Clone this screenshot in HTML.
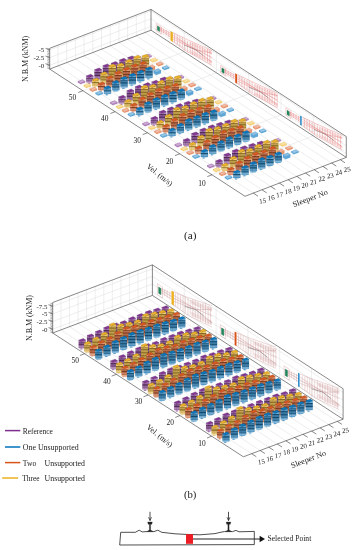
<!DOCTYPE html>
<html lang="en"><head><meta charset="utf-8"><title>Figure</title>
<style>html,body{margin:0;padding:0;background:#fff}svg{display:block}</style></head>
<body>
<svg width="359" height="550" viewBox="0 0 359 550" font-family="'Liberation Serif', serif" fill="#222">
<rect width="359" height="550" fill="#fff"/>
<g id="chartA">
<g fill="none" stroke="#dcdcdc" stroke-width=".5">
<path d="M253.3 193.1L58 65.9"/>
<path d="M58 65.9V45.1"/>
<path d="M262 189.8L66.7 62.6"/>
<path d="M66.7 62.6V41.8"/>
<path d="M270.7 186.4L75.4 59.2"/>
<path d="M75.4 59.2V38.4"/>
<path d="M279.4 183.1L84.1 55.9"/>
<path d="M84.1 55.9V35.1"/>
<path d="M288.1 179.7L92.8 52.5"/>
<path d="M92.8 52.5V31.7"/>
<path d="M296.8 176.4L101.5 49.2"/>
<path d="M101.5 49.2V28.4"/>
<path d="M305.5 173.1L110.2 45.9"/>
<path d="M110.2 45.9V25.1"/>
<path d="M314.2 169.7L118.9 42.5"/>
<path d="M118.9 42.5V21.7"/>
<path d="M322.9 166.4L127.6 39.2"/>
<path d="M127.6 39.2V18.4"/>
<path d="M331.6 163L136.3 35.8"/>
<path d="M136.3 35.8V15"/>
<path d="M340.3 159.7L145 32.5"/>
<path d="M145 32.5V11.7"/>
<path d="M212 174.8L313.3 135.9"/>
<path d="M313.3 135.9V115.1"/>
<path d="M179.7 153.8L281 114.9"/>
<path d="M281 114.9V94.1"/>
<path d="M147.4 132.8L248.7 93.9"/>
<path d="M248.7 93.9V73.1"/>
<path d="M115.1 111.7L216.4 72.8"/>
<path d="M216.4 72.8V52"/>
<path d="M82.9 90.7L184.2 51.8"/>
<path d="M184.2 51.8V31"/>
<path d="M49.7 65.3L151 26.4L346.3 153.6"/>
<path d="M49.7 57.6L151 18.7L346.3 145.9"/>
<path d="M49.7 49.9L151 11L346.3 138.2"/>
</g>
<g fill="none" stroke="#404040" stroke-width=".62" stroke-linejoin="round">
<path d="M49.7 69.1L151 30.2L346.3 157.4L245 196.3Z"/>
<path d="M49.7 48.3L151 9.4L346.3 136.6"/>
<path d="M49.7 69.1V48.3"/>
<path d="M151 30.2V9.4"/>
<path d="M346.3 157.4V136.6"/>
</g>
<g fill="none" stroke="#e27474" stroke-width=".45" stroke-opacity="0.85">
<path d="M158.2 29.2L170.8 37.2"/>
<path d="M158.2 27.8L170.8 35.3"/>
<path d="M158.2 26.5L170.8 33.4"/>
<path d="M172.5 41.2L186.9 51.5L212.1 65.2"/>
<path d="M172.5 32.4L186.9 39.4L212.1 50.7"/>
<path d="M172.5 38.8L195.5 49.7L212.1 53.1"/>
<path d="M172.5 34.7L195.5 49.7L212.1 62.2"/>
<path d="M172.5 36.8L212.1 57.6"/>
<path d="M161 31.7L161 27.4M163.6 33.4L163.6 28.7M166.2 35.1L166.2 30.1M168.8 36.8L168.8 31.4M174.5 42.5L174.5 33.7M177.3 44.3L177.3 35M179.8 46.5L179.8 36.3M182.4 47.5L182.4 37.2M184.8 50.1L184.8 39.3M187.5 51.9L187.5 40.8M190.2 52.6L190.2 41.6M192.6 54.7L192.6 42.5M194.9 55.7L194.9 43.2M197.2 56.5L197.2 44.5M199.9 57.9L199.9 46M202.4 59L202.4 46.9M204.8 59.8L204.8 48.8M207.5 61.7L207.5 49.1M209.9 63.6L209.9 49.8"/>
<path d="M190.9 52.7L190.9 50.1M192 53.4L192 50.7M193.2 54L193.2 51.3M194.3 54.6L194.3 51.9M195.5 55.2L195.5 52.4M196.6 55.8L196.6 53M197.8 56.4L197.8 53.6M198.9 57L198.9 54.2M200.1 57.6L200.1 54.8M201.2 58.2L201.2 55.4M202.4 58.8L202.4 56M203.5 59.4L203.5 56.6M204.7 60L204.7 57.1M205.8 60.7L205.8 57.7M207 61.3L207 58.3M208.1 61.9L208.1 58.9M209.3 62.5L209.3 59.5M210.4 63.1L210.4 60.1M211.6 63.7L211.6 60.7M190.9 44.8L190.9 42.1M192 45.3L192 42.7M193.2 45.9L193.2 43.2M194.3 46.4L194.3 43.7M195.5 47L195.5 44.2M196.6 47.5L196.6 44.8M197.8 48.1L197.8 45.3M198.9 48.6L198.9 45.8M200.1 49.2L200.1 46.4M201.2 49.7L201.2 46.9M202.4 50.3L202.4 47.4M203.5 50.8L203.5 47.9M204.7 51.4L204.7 48.5M205.8 51.9L205.8 49M207 52.5L207 49.5M208.1 53L208.1 50M209.3 53.5L209.3 50.6M210.4 54.1L210.4 51.1M211.6 54.6L211.6 51.6" stroke-opacity=".55"/>
</g>
<path d="M184 45L195.5 49.7L203.5 55.7" stroke="#555" stroke-opacity=".8" stroke-width=".5" fill="none"/>
<polygon points="156.2,30.9 161.4,34.2 161.4,26.7 156.2,23.4" fill="none" stroke="#e27474" stroke-width=".4" stroke-opacity=".8"/>
<polygon points="157.3,30.1 159.6,31.6 159.6,27.3 157.3,25.8" fill="#1f8a5b" stroke="#1a5f43" stroke-width=".3"/>
<polygon points="170.5,40.4 172.9,42 172.9,32.6 170.5,31.1" fill="#edb120"/>
<g fill="none" stroke="#e27474" stroke-width=".45" stroke-opacity="0.85">
<path d="M222.7 71.2L235.5 79.3"/>
<path d="M222.7 69.8L235.5 77.4"/>
<path d="M222.7 68.5L235.5 75.5"/>
<path d="M237.2 83.3L251.8 93.8L277.4 107.7"/>
<path d="M237.2 74.5L251.8 81.6L277.4 93.2"/>
<path d="M237.2 80.9L260.5 92L277.4 95.6"/>
<path d="M237.2 76.8L260.5 92L277.4 104.7"/>
<path d="M237.2 78.9L277.4 100.1"/>
<path d="M225.6 73.7L225.6 69.4M228.2 75.5L228.2 70.8M230.8 77.2L230.8 72.1M233.4 78.9L233.4 73.5M239.2 84.6L239.2 75.9M241.9 86.8L241.9 76.6M244.4 88.4L244.4 78.8M247 89.9L247 79.8M249.7 92.2L249.7 81M252.1 92.9L252.1 81.7M254.8 95.4L254.8 83.8M257.3 96.3L257.3 85.2M259.6 98L259.6 86.3M262.2 99.4L262.2 87.6M264.9 100.8L264.9 88.1M267.3 101.8L267.3 89.5M269.7 102.6L269.7 89.8M272.1 103.7L272.1 91.4M274.7 105.3L274.7 92.6M277.2 107.5L277.2 94.2"/>
<path d="M255.8 95L255.8 92.4M257 95.7L257 93M258.2 96.3L258.2 93.6M259.3 96.9L259.3 94.2M260.5 97.5L260.5 94.8M261.6 98.1L261.6 95.4M262.8 98.7L262.8 96M264 99.4L264 96.6M265.1 100L265.1 97.2M266.3 100.6L266.3 97.8M267.5 101.2L267.5 98.4M268.6 101.8L268.6 99M269.8 102.5L269.8 99.6M271 103.1L271 100.2M272.1 103.7L272.1 100.8M273.3 104.3L273.3 101.4M274.5 104.9L274.5 102M275.6 105.5L275.6 102.6M276.8 106.2L276.8 103.2M255.8 87.1L255.8 84.4M257 87.6L257 85M258.2 88.2L258.2 85.5M259.3 88.8L259.3 86M260.5 89.3L260.5 86.6M261.6 89.9L261.6 87.1M262.8 90.4L262.8 87.7M264 91L264 88.2M265.1 91.5L265.1 88.7M266.3 92.1L266.3 89.3M267.5 92.7L267.5 89.8M268.6 93.2L268.6 90.3M269.8 93.8L269.8 90.9M271 94.3L271 91.4M272.1 94.9L272.1 92M273.3 95.4L273.3 92.5M274.5 96L274.5 93M275.6 96.6L275.6 93.6M276.8 97.1L276.8 94.1" stroke-opacity=".55"/>
</g>
<path d="M248.8 87.2L260.5 92L268.6 98.1" stroke="#555" stroke-opacity=".8" stroke-width=".5" fill="none"/>
<polygon points="220.6,72.8 225.8,76.2 225.8,68.7 220.6,65.4" fill="none" stroke="#e27474" stroke-width=".4" stroke-opacity=".8"/>
<polygon points="221.8,72.1 224.1,73.6 224.1,69.3 221.8,67.8" fill="#1f8a5b" stroke="#1a5f43" stroke-width=".3"/>
<polygon points="235.2,82.5 237.1,83.8 237.1,74.4 235.2,73.2" fill="#d95319"/>
<g fill="none" stroke="#e27474" stroke-width=".45" stroke-opacity="0.85">
<path d="M287.9 113.7L300.6 121.8"/>
<path d="M287.9 112.3L300.6 119.9"/>
<path d="M287.9 111L300.6 118"/>
<path d="M302.4 125.8L316.9 136.2L342.4 150"/>
<path d="M302.4 117L316.9 124.1L342.4 135.5"/>
<path d="M302.4 123.3L325.6 134.4L342.4 137.9"/>
<path d="M302.4 119.2L325.6 134.4L342.4 147"/>
<path d="M302.4 121.4L342.4 142.5"/>
<path d="M290.8 116.2L290.8 111.9M293.4 117.9L293.4 113.2M296 119.6L296 114.6M298.6 121.4L298.6 116M304.4 127.3L304.4 118.4M307 128.5L307 119.2M309.5 130.9L309.5 120.5M312.1 132.8L312.1 122.2M314.6 134.3L314.6 123.3M317.3 135.7L317.3 124.1M319.7 137.6L319.7 126.4M322.4 138.2L322.4 127.5M325.1 139.4L325.1 128.7M327.5 140.9L327.5 129.4M330.2 142.7L330.2 130.6M332.7 144.2L332.7 131.6M335 144.9L335 133.3M337.8 146.6L337.8 134.3M340.5 148.8L340.5 135.7"/>
<path d="M320.9 137.4L320.9 134.8M322.1 138.1L322.1 135.4M323.3 138.7L323.3 136M324.4 139.3L324.4 136.6M325.6 139.9L325.6 137.2M326.7 140.5L326.7 137.8M327.9 141.1L327.9 138.4M329.1 141.8L329.1 139M330.2 142.4L330.2 139.6M331.4 143L331.4 140.2M332.5 143.6L332.5 140.7M333.7 144.2L333.7 141.3M334.9 144.8L334.9 141.9M336 145.4L336 142.5M337.2 146.1L337.2 143.1M338.3 146.7L338.3 143.7M339.5 147.3L339.5 144.3M340.7 147.9L340.7 144.9M341.8 148.5L341.8 145.5M320.9 129.5L320.9 126.8M322.1 130L322.1 127.4M323.3 130.6L323.3 127.9M324.4 131.2L324.4 128.4M325.6 131.7L325.6 129M326.7 132.3L326.7 129.5M327.9 132.8L327.9 130M329.1 133.4L329.1 130.6M330.2 133.9L330.2 131.1M331.4 134.5L331.4 131.6M332.5 135L332.5 132.2M333.7 135.6L333.7 132.7M334.9 136.1L334.9 133.3M336 136.7L336 133.8M337.2 137.3L337.2 134.3M338.3 137.8L338.3 134.9M339.5 138.4L339.5 135.4M340.7 138.9L340.7 135.9M341.8 139.5L341.8 136.5" stroke-opacity=".55"/>
</g>
<path d="M314 129.6L325.6 134.4L333.7 140.5" stroke="#555" stroke-opacity=".8" stroke-width=".5" fill="none"/>
<polygon points="285.8,115.3 291,118.7 291,111.2 285.8,107.8" fill="none" stroke="#e27474" stroke-width=".4" stroke-opacity=".8"/>
<polygon points="287,114.6 289.3,116.1 289.3,111.7 287,110.3" fill="#1f8a5b" stroke="#1a5f43" stroke-width=".3"/>
<polygon points="300.3,125 301.6,125.8 301.6,116.5 300.3,115.6" fill="#0072bd"/>
<defs>
<g id="apt1"><polygon points="-3.6,-2.9 -1,-1.2 3.6,-2.9 3.6,-3.9 -1,-2.2 -3.6,-3.9" fill="#b486bd" stroke="#914e9f" stroke-width=".3" stroke-opacity=".7"/><polygon points="-1,-2.2 3.6,-3.9 1,-5.7 -3.6,-3.9" fill="#cbacd2" stroke="#914e9f" stroke-width=".4"/></g>
<g id="apt2"><polygon points="-3.6,-1.2 -1,0.5 3.6,-1.2 3.6,-3.9 -1,-2.2 -3.6,-3.9" fill="#b486bd" stroke="#914e9f" stroke-width=".3" stroke-opacity=".7"/><path d="M-3.6 -2.6L-1 -0.8L3.6 -2.6" stroke="#914e9f" stroke-width=".4" stroke-opacity=".6" fill="none"/><polygon points="-1,-2.2 3.6,-3.9 1,-5.7 -3.6,-3.9" fill="#c5a1cc" stroke="#914e9f" stroke-width=".4"/></g>
<g id="ap275"><linearGradient id="gap275" gradientUnits="userSpaceOnUse" x1="0" y1="-8.5" x2="0" y2="0.9"><stop offset="0" stop-color="#af7eb9"/><stop offset="0.55" stop-color="#af7eb9"/><stop offset="0.7" stop-color="#c39fcb"/><stop offset="0.85" stop-color="#d8c1dd"/><stop offset="1" stop-color="#e5d5e8"/></linearGradient><linearGradient id="gap275s" gradientUnits="userSpaceOnUse" x1="0" y1="-8.5" x2="0" y2="0.9"><stop offset="0" stop-color="#391540"/><stop offset="0.55" stop-color="#391540"/><stop offset="0.7" stop-color="#62356b"/><stop offset="0.85" stop-color="#8a5395"/><stop offset="1" stop-color="#9e63aa"/></linearGradient><polygon points="-3.6,0 -1,1.7 3.6,0 3.6,-8.5 -1,-6.7 -3.6,-8.5" fill="url(#gap275)" stroke="#3f1847" stroke-opacity=".35" stroke-width=".3"/><path d="M-3.6 -5.6H3.6M-3.6 -4.1H3.6M-3.6 -2.6H3.6M-3.6 -1.1H3.6M-3 0.4H2.5" stroke="url(#gap275s)" stroke-width=".8" fill="none"/><path d="M-1 1.7V-6.7" stroke="#521f5c" stroke-opacity=".3" stroke-width=".35"/><polygon points="-1,-6.7 3.6,-8.5 1,-10.2 -3.6,-8.5" fill="#833793" stroke="#521f5c" stroke-opacity=".75" stroke-width=".45"/></g>
<g id="ap300"><linearGradient id="gap300" gradientUnits="userSpaceOnUse" x1="0" y1="-9.2" x2="0" y2="0.9"><stop offset="0" stop-color="#af7eb9"/><stop offset="0.58" stop-color="#af7eb9"/><stop offset="0.72" stop-color="#c39fcb"/><stop offset="0.86" stop-color="#d8c1dd"/><stop offset="1" stop-color="#e5d5e8"/></linearGradient><linearGradient id="gap300s" gradientUnits="userSpaceOnUse" x1="0" y1="-9.2" x2="0" y2="0.9"><stop offset="0" stop-color="#391540"/><stop offset="0.58" stop-color="#391540"/><stop offset="0.72" stop-color="#62356b"/><stop offset="0.86" stop-color="#8a5395"/><stop offset="1" stop-color="#9e63aa"/></linearGradient><polygon points="-3.6,0 -1,1.7 3.6,0 3.6,-9.3 -1,-7.5 -3.6,-9.2" fill="url(#gap300)" stroke="#3f1847" stroke-opacity=".35" stroke-width=".3"/><path d="M-3.6 -6.4H3.6M-3.6 -4.9H3.6M-3.6 -3.4H3.6M-3.6 -1.9H3.6M-3.6 -0.4H3.6M-1.9 1.1H0.6" stroke="url(#gap300s)" stroke-width=".8" fill="none"/><path d="M-1 1.7V-7.5" stroke="#521f5c" stroke-opacity=".3" stroke-width=".35"/><polygon points="-1,-7.5 3.6,-9.3 1,-11 -3.6,-9.2" fill="#833793" stroke="#521f5c" stroke-opacity=".75" stroke-width=".45"/></g>
<g id="ap325"><linearGradient id="gap325" gradientUnits="userSpaceOnUse" x1="0" y1="-10" x2="0" y2="0.9"><stop offset="0" stop-color="#af7eb9"/><stop offset="0.62" stop-color="#af7eb9"/><stop offset="0.75" stop-color="#c39fcb"/><stop offset="0.87" stop-color="#d8c1dd"/><stop offset="1" stop-color="#e5d5e8"/></linearGradient><linearGradient id="gap325s" gradientUnits="userSpaceOnUse" x1="0" y1="-10" x2="0" y2="0.9"><stop offset="0" stop-color="#391540"/><stop offset="0.62" stop-color="#391540"/><stop offset="0.75" stop-color="#62356b"/><stop offset="0.87" stop-color="#8a5395"/><stop offset="1" stop-color="#9e63aa"/></linearGradient><polygon points="-3.6,0 -1,1.7 3.6,0 3.6,-10 -1,-8.3 -3.6,-10" fill="url(#gap325)" stroke="#3f1847" stroke-opacity=".35" stroke-width=".3"/><path d="M-3.6 -7.1H3.6M-3.6 -5.6H3.6M-3.6 -4.1H3.6M-3.6 -2.6H3.6M-3.6 -1.1H3.6M-3.1 0.4H2.6" stroke="url(#gap325s)" stroke-width=".8" fill="none"/><path d="M-1 1.7V-8.3" stroke="#521f5c" stroke-opacity=".3" stroke-width=".35"/><polygon points="-1,-8.3 3.6,-10 1,-11.8 -3.6,-10" fill="#833793" stroke="#521f5c" stroke-opacity=".75" stroke-width=".45"/></g>
<g id="ap200"><linearGradient id="gap200" gradientUnits="userSpaceOnUse" x1="0" y1="-6.2" x2="0" y2="0.9"><stop offset="0" stop-color="#af7eb9"/><stop offset="0.38" stop-color="#af7eb9"/><stop offset="0.59" stop-color="#c39fcb"/><stop offset="0.79" stop-color="#d8c1dd"/><stop offset="1" stop-color="#e5d5e8"/></linearGradient><linearGradient id="gap200s" gradientUnits="userSpaceOnUse" x1="0" y1="-6.2" x2="0" y2="0.9"><stop offset="0" stop-color="#391540"/><stop offset="0.38" stop-color="#391540"/><stop offset="0.59" stop-color="#62356b"/><stop offset="0.79" stop-color="#8a5395"/><stop offset="1" stop-color="#9e63aa"/></linearGradient><polygon points="-3.6,0 -1,1.7 3.6,0 3.6,-6.2 -1,-4.4 -3.6,-6.1" fill="url(#gap200)" stroke="#3f1847" stroke-opacity=".35" stroke-width=".3"/><path d="M-3.6 -3.3H3.6M-3.6 -1.8H3.6M-3.6 -0.3H3.6M-1.8 1.2H0.4" stroke="url(#gap200s)" stroke-width=".8" fill="none"/><path d="M-1 1.7V-4.4" stroke="#521f5c" stroke-opacity=".3" stroke-width=".35"/><polygon points="-1,-4.4 3.6,-6.2 1,-7.9 -3.6,-6.1" fill="#833793" stroke="#521f5c" stroke-opacity=".75" stroke-width=".45"/></g>
<g id="ayt1"><polygon points="-3.6,-2.9 -1,-1.2 3.6,-2.9 3.6,-3.9 -1,-2.2 -3.6,-3.9" fill="#f5d27e" stroke="#f0bd41" stroke-width=".3" stroke-opacity=".7"/><polygon points="-1,-2.2 3.6,-3.9 1,-5.7 -3.6,-3.9" fill="#f8e0a6" stroke="#f0bd41" stroke-width=".4"/></g>
<g id="ay350"><linearGradient id="gay350" gradientUnits="userSpaceOnUse" x1="0" y1="-10.8" x2="0" y2="0.9"><stop offset="0" stop-color="#f4cf75"/><stop offset="0.64" stop-color="#f4cf75"/><stop offset="0.76" stop-color="#f7db98"/><stop offset="0.88" stop-color="#fae8bc"/><stop offset="1" stop-color="#fbefd2"/></linearGradient><linearGradient id="gay350s" gradientUnits="userSpaceOnUse" x1="0" y1="-10.8" x2="0" y2="0.9"><stop offset="0" stop-color="#6b500e"/><stop offset="0.64" stop-color="#6b500e"/><stop offset="0.76" stop-color="#a17f2c"/><stop offset="0.88" stop-color="#d6ad49"/><stop offset="1" stop-color="#f2c458"/></linearGradient><polygon points="-3.6,0 -1,1.7 3.6,0 3.6,-10.8 -1,-9 -3.6,-10.8" fill="url(#gay350)" stroke="#765810" stroke-opacity=".35" stroke-width=".3"/><path d="M-3.6 -7.9H3.6M-3.6 -6.4H3.6M-3.6 -4.9H3.6M-3.6 -3.4H3.6M-3.6 -1.9H3.6M-3.6 -0.4H3.6M-2 1.1H0.7" stroke="url(#gay350s)" stroke-width=".8" fill="none"/><path d="M-1 1.7V-9" stroke="#9a7315" stroke-opacity=".3" stroke-width=".35"/><polygon points="-1,-9 3.6,-10.8 1,-12.5 -3.6,-10.8" fill="#eeb429" stroke="#9a7315" stroke-opacity=".75" stroke-width=".45"/></g>
<g id="ay425"><linearGradient id="gay425" gradientUnits="userSpaceOnUse" x1="0" y1="-13.1" x2="0" y2="0.9"><stop offset="0" stop-color="#f4cf75"/><stop offset="0.71" stop-color="#f4cf75"/><stop offset="0.81" stop-color="#f7db98"/><stop offset="0.9" stop-color="#fae8bc"/><stop offset="1" stop-color="#fbefd2"/></linearGradient><linearGradient id="gay425s" gradientUnits="userSpaceOnUse" x1="0" y1="-13.1" x2="0" y2="0.9"><stop offset="0" stop-color="#6b500e"/><stop offset="0.71" stop-color="#6b500e"/><stop offset="0.81" stop-color="#a17f2c"/><stop offset="0.9" stop-color="#d6ad49"/><stop offset="1" stop-color="#f2c458"/></linearGradient><polygon points="-3.6,0 -1,1.7 3.6,0 3.6,-13.1 -1,-11.3 -3.6,-13.1" fill="url(#gay425)" stroke="#765810" stroke-opacity=".35" stroke-width=".3"/><path d="M-3.6 -10.2H3.6M-3.6 -8.7H3.6M-3.6 -7.2H3.6M-3.6 -5.7H3.6M-3.6 -4.2H3.6M-3.6 -2.7H3.6M-3.6 -1.2H3.6M-3.2 0.3H2.9" stroke="url(#gay425s)" stroke-width=".8" fill="none"/><path d="M-1 1.7V-11.3" stroke="#9a7315" stroke-opacity=".3" stroke-width=".35"/><polygon points="-1,-11.3 3.6,-13.1 1,-14.8 -3.6,-13.1" fill="#eeb429" stroke="#9a7315" stroke-opacity=".75" stroke-width=".45"/></g>
<g id="ay400"><linearGradient id="gay400" gradientUnits="userSpaceOnUse" x1="0" y1="-12.3" x2="0" y2="0.9"><stop offset="0" stop-color="#f4cf75"/><stop offset="0.69" stop-color="#f4cf75"/><stop offset="0.79" stop-color="#f7db98"/><stop offset="0.9" stop-color="#fae8bc"/><stop offset="1" stop-color="#fbefd2"/></linearGradient><linearGradient id="gay400s" gradientUnits="userSpaceOnUse" x1="0" y1="-12.3" x2="0" y2="0.9"><stop offset="0" stop-color="#6b500e"/><stop offset="0.69" stop-color="#6b500e"/><stop offset="0.79" stop-color="#a17f2c"/><stop offset="0.9" stop-color="#d6ad49"/><stop offset="1" stop-color="#f2c458"/></linearGradient><polygon points="-3.6,0 -1,1.7 3.6,0 3.6,-12.3 -1,-10.6 -3.6,-12.3" fill="url(#gay400)" stroke="#765810" stroke-opacity=".35" stroke-width=".3"/><path d="M-3.6 -9.5H3.6M-3.6 -8H3.6M-3.6 -6.5H3.6M-3.6 -5H3.6M-3.6 -3.5H3.6M-3.6 -2H3.6M-3.6 -0.5H3.6M-2 1H0.9" stroke="url(#gay400s)" stroke-width=".8" fill="none"/><path d="M-1 1.7V-10.6" stroke="#9a7315" stroke-opacity=".3" stroke-width=".35"/><polygon points="-1,-10.6 3.6,-12.3 1,-14.1 -3.6,-12.3" fill="#eeb429" stroke="#9a7315" stroke-opacity=".75" stroke-width=".45"/></g>
<g id="ay375"><linearGradient id="gay375" gradientUnits="userSpaceOnUse" x1="0" y1="-11.6" x2="0" y2="0.9"><stop offset="0" stop-color="#f4cf75"/><stop offset="0.67" stop-color="#f4cf75"/><stop offset="0.78" stop-color="#f7db98"/><stop offset="0.89" stop-color="#fae8bc"/><stop offset="1" stop-color="#fbefd2"/></linearGradient><linearGradient id="gay375s" gradientUnits="userSpaceOnUse" x1="0" y1="-11.6" x2="0" y2="0.9"><stop offset="0" stop-color="#6b500e"/><stop offset="0.67" stop-color="#6b500e"/><stop offset="0.78" stop-color="#a17f2c"/><stop offset="0.89" stop-color="#d6ad49"/><stop offset="1" stop-color="#f2c458"/></linearGradient><polygon points="-3.6,0 -1,1.7 3.6,0 3.6,-11.6 -1,-9.8 -3.6,-11.5" fill="url(#gay375)" stroke="#765810" stroke-opacity=".35" stroke-width=".3"/><path d="M-3.6 -8.7H3.6M-3.6 -7.2H3.6M-3.6 -5.7H3.6M-3.6 -4.2H3.6M-3.6 -2.7H3.6M-3.6 -1.2H3.6M-3.1 0.3H2.8" stroke="url(#gay375s)" stroke-width=".8" fill="none"/><path d="M-1 1.7V-9.8" stroke="#9a7315" stroke-opacity=".3" stroke-width=".35"/><polygon points="-1,-9.8 3.6,-11.6 1,-13.3 -3.6,-11.5" fill="#eeb429" stroke="#9a7315" stroke-opacity=".75" stroke-width=".45"/></g>
<g id="ay450"><linearGradient id="gay450" gradientUnits="userSpaceOnUse" x1="0" y1="-13.9" x2="0" y2="0.9"><stop offset="0" stop-color="#f4cf75"/><stop offset="0.72" stop-color="#f4cf75"/><stop offset="0.82" stop-color="#f7db98"/><stop offset="0.91" stop-color="#fae8bc"/><stop offset="1" stop-color="#fbefd2"/></linearGradient><linearGradient id="gay450s" gradientUnits="userSpaceOnUse" x1="0" y1="-13.9" x2="0" y2="0.9"><stop offset="0" stop-color="#6b500e"/><stop offset="0.72" stop-color="#6b500e"/><stop offset="0.82" stop-color="#a17f2c"/><stop offset="0.91" stop-color="#d6ad49"/><stop offset="1" stop-color="#f2c458"/></linearGradient><polygon points="-3.6,0 -1,1.7 3.6,0 3.6,-13.9 -1,-12.1 -3.6,-13.8" fill="url(#gay450)" stroke="#765810" stroke-opacity=".35" stroke-width=".3"/><path d="M-3.6 -11H3.6M-3.6 -9.5H3.6M-3.6 -8H3.6M-3.6 -6.5H3.6M-3.6 -5H3.6M-3.6 -3.5H3.6M-3.6 -2H3.6M-3.6 -0.5H3.6M-2.1 1H1" stroke="url(#gay450s)" stroke-width=".8" fill="none"/><path d="M-1 1.7V-12.1" stroke="#9a7315" stroke-opacity=".3" stroke-width=".35"/><polygon points="-1,-12.1 3.6,-13.9 1,-15.6 -3.6,-13.8" fill="#eeb429" stroke="#9a7315" stroke-opacity=".75" stroke-width=".45"/></g>
<g id="ay300"><linearGradient id="gay300" gradientUnits="userSpaceOnUse" x1="0" y1="-9.2" x2="0" y2="0.9"><stop offset="0" stop-color="#f4cf75"/><stop offset="0.58" stop-color="#f4cf75"/><stop offset="0.72" stop-color="#f7db98"/><stop offset="0.86" stop-color="#fae8bc"/><stop offset="1" stop-color="#fbefd2"/></linearGradient><linearGradient id="gay300s" gradientUnits="userSpaceOnUse" x1="0" y1="-9.2" x2="0" y2="0.9"><stop offset="0" stop-color="#6b500e"/><stop offset="0.58" stop-color="#6b500e"/><stop offset="0.72" stop-color="#a17f2c"/><stop offset="0.86" stop-color="#d6ad49"/><stop offset="1" stop-color="#f2c458"/></linearGradient><polygon points="-3.6,0 -1,1.7 3.6,0 3.6,-9.3 -1,-7.5 -3.6,-9.2" fill="url(#gay300)" stroke="#765810" stroke-opacity=".35" stroke-width=".3"/><path d="M-3.6 -6.4H3.6M-3.6 -4.9H3.6M-3.6 -3.4H3.6M-3.6 -1.9H3.6M-3.6 -0.4H3.6M-1.9 1.1H0.6" stroke="url(#gay300s)" stroke-width=".8" fill="none"/><path d="M-1 1.7V-7.5" stroke="#9a7315" stroke-opacity=".3" stroke-width=".35"/><polygon points="-1,-7.5 3.6,-9.3 1,-11 -3.6,-9.2" fill="#eeb429" stroke="#9a7315" stroke-opacity=".75" stroke-width=".45"/></g>
<g id="ay200"><linearGradient id="gay200" gradientUnits="userSpaceOnUse" x1="0" y1="-6.2" x2="0" y2="0.9"><stop offset="0" stop-color="#f4cf75"/><stop offset="0.38" stop-color="#f4cf75"/><stop offset="0.59" stop-color="#f7db98"/><stop offset="0.79" stop-color="#fae8bc"/><stop offset="1" stop-color="#fbefd2"/></linearGradient><linearGradient id="gay200s" gradientUnits="userSpaceOnUse" x1="0" y1="-6.2" x2="0" y2="0.9"><stop offset="0" stop-color="#6b500e"/><stop offset="0.38" stop-color="#6b500e"/><stop offset="0.59" stop-color="#a17f2c"/><stop offset="0.79" stop-color="#d6ad49"/><stop offset="1" stop-color="#f2c458"/></linearGradient><polygon points="-3.6,0 -1,1.7 3.6,0 3.6,-6.2 -1,-4.4 -3.6,-6.1" fill="url(#gay200)" stroke="#765810" stroke-opacity=".35" stroke-width=".3"/><path d="M-3.6 -3.3H3.6M-3.6 -1.8H3.6M-3.6 -0.3H3.6M-1.8 1.2H0.4" stroke="url(#gay200s)" stroke-width=".8" fill="none"/><path d="M-1 1.7V-4.4" stroke="#9a7315" stroke-opacity=".3" stroke-width=".35"/><polygon points="-1,-4.4 3.6,-6.2 1,-7.9 -3.6,-6.1" fill="#eeb429" stroke="#9a7315" stroke-opacity=".75" stroke-width=".45"/></g>
<g id="aot1"><polygon points="-3.6,-2.9 -1,-1.2 3.6,-2.9 3.6,-3.9 -1,-2.2 -3.6,-3.9" fill="#e99b7a" stroke="#df6d3c" stroke-width=".3" stroke-opacity=".7"/><polygon points="-1,-2.2 3.6,-3.9 1,-5.7 -3.6,-3.9" fill="#f0baa3" stroke="#df6d3c" stroke-width=".4"/></g>
<g id="aot2"><polygon points="-3.6,-1.2 -1,0.5 3.6,-1.2 3.6,-3.9 -1,-2.2 -3.6,-3.9" fill="#e99b7a" stroke="#df6d3c" stroke-width=".3" stroke-opacity=".7"/><path d="M-3.6 -2.6L-1 -0.8L3.6 -2.6" stroke="#df6d3c" stroke-width=".4" stroke-opacity=".6" fill="none"/><polygon points="-1,-2.2 3.6,-3.9 1,-5.7 -3.6,-3.9" fill="#eeb298" stroke="#df6d3c" stroke-width=".4"/></g>
<g id="ao350"><linearGradient id="gao350" gradientUnits="userSpaceOnUse" x1="0" y1="-10.8" x2="0" y2="0.9"><stop offset="0" stop-color="#e79470"/><stop offset="0.64" stop-color="#e79470"/><stop offset="0.76" stop-color="#edaf94"/><stop offset="0.88" stop-color="#f4cbba"/><stop offset="1" stop-color="#f7ddd1"/></linearGradient><linearGradient id="gao350s" gradientUnits="userSpaceOnUse" x1="0" y1="-10.8" x2="0" y2="0.9"><stop offset="0" stop-color="#62250b"/><stop offset="0.64" stop-color="#62250b"/><stop offset="0.76" stop-color="#964928"/><stop offset="0.88" stop-color="#c86c44"/><stop offset="1" stop-color="#e27e52"/></linearGradient><polygon points="-3.6,0 -1,1.7 3.6,0 3.6,-10.8 -1,-9 -3.6,-10.8" fill="url(#gao350)" stroke="#6c2a0c" stroke-opacity=".35" stroke-width=".3"/><path d="M-3.6 -7.9H3.6M-3.6 -6.4H3.6M-3.6 -4.9H3.6M-3.6 -3.4H3.6M-3.6 -1.9H3.6M-3.6 -0.4H3.6M-2 1.1H0.7" stroke="url(#gao350s)" stroke-width=".8" fill="none"/><path d="M-1 1.7V-9" stroke="#8d3610" stroke-opacity=".3" stroke-width=".35"/><polygon points="-1,-9 3.6,-10.8 1,-12.5 -3.6,-10.8" fill="#db5a22" stroke="#8d3610" stroke-opacity=".75" stroke-width=".45"/></g>
<g id="ao375"><linearGradient id="gao375" gradientUnits="userSpaceOnUse" x1="0" y1="-11.6" x2="0" y2="0.9"><stop offset="0" stop-color="#e79470"/><stop offset="0.67" stop-color="#e79470"/><stop offset="0.78" stop-color="#edaf94"/><stop offset="0.89" stop-color="#f4cbba"/><stop offset="1" stop-color="#f7ddd1"/></linearGradient><linearGradient id="gao375s" gradientUnits="userSpaceOnUse" x1="0" y1="-11.6" x2="0" y2="0.9"><stop offset="0" stop-color="#62250b"/><stop offset="0.67" stop-color="#62250b"/><stop offset="0.78" stop-color="#964928"/><stop offset="0.89" stop-color="#c86c44"/><stop offset="1" stop-color="#e27e52"/></linearGradient><polygon points="-3.6,0 -1,1.7 3.6,0 3.6,-11.6 -1,-9.8 -3.6,-11.5" fill="url(#gao375)" stroke="#6c2a0c" stroke-opacity=".35" stroke-width=".3"/><path d="M-3.6 -8.7H3.6M-3.6 -7.2H3.6M-3.6 -5.7H3.6M-3.6 -4.2H3.6M-3.6 -2.7H3.6M-3.6 -1.2H3.6M-3.1 0.3H2.8" stroke="url(#gao375s)" stroke-width=".8" fill="none"/><path d="M-1 1.7V-9.8" stroke="#8d3610" stroke-opacity=".3" stroke-width=".35"/><polygon points="-1,-9.8 3.6,-11.6 1,-13.3 -3.6,-11.5" fill="#db5a22" stroke="#8d3610" stroke-opacity=".75" stroke-width=".45"/></g>
<g id="ao300"><linearGradient id="gao300" gradientUnits="userSpaceOnUse" x1="0" y1="-9.2" x2="0" y2="0.9"><stop offset="0" stop-color="#e79470"/><stop offset="0.58" stop-color="#e79470"/><stop offset="0.72" stop-color="#edaf94"/><stop offset="0.86" stop-color="#f4cbba"/><stop offset="1" stop-color="#f7ddd1"/></linearGradient><linearGradient id="gao300s" gradientUnits="userSpaceOnUse" x1="0" y1="-9.2" x2="0" y2="0.9"><stop offset="0" stop-color="#62250b"/><stop offset="0.58" stop-color="#62250b"/><stop offset="0.72" stop-color="#964928"/><stop offset="0.86" stop-color="#c86c44"/><stop offset="1" stop-color="#e27e52"/></linearGradient><polygon points="-3.6,0 -1,1.7 3.6,0 3.6,-9.3 -1,-7.5 -3.6,-9.2" fill="url(#gao300)" stroke="#6c2a0c" stroke-opacity=".35" stroke-width=".3"/><path d="M-3.6 -6.4H3.6M-3.6 -4.9H3.6M-3.6 -3.4H3.6M-3.6 -1.9H3.6M-3.6 -0.4H3.6M-1.9 1.1H0.6" stroke="url(#gao300s)" stroke-width=".8" fill="none"/><path d="M-1 1.7V-7.5" stroke="#8d3610" stroke-opacity=".3" stroke-width=".35"/><polygon points="-1,-7.5 3.6,-9.3 1,-11 -3.6,-9.2" fill="#db5a22" stroke="#8d3610" stroke-opacity=".75" stroke-width=".45"/></g>
<g id="ao200"><linearGradient id="gao200" gradientUnits="userSpaceOnUse" x1="0" y1="-6.2" x2="0" y2="0.9"><stop offset="0" stop-color="#e79470"/><stop offset="0.38" stop-color="#e79470"/><stop offset="0.59" stop-color="#edaf94"/><stop offset="0.79" stop-color="#f4cbba"/><stop offset="1" stop-color="#f7ddd1"/></linearGradient><linearGradient id="gao200s" gradientUnits="userSpaceOnUse" x1="0" y1="-6.2" x2="0" y2="0.9"><stop offset="0" stop-color="#62250b"/><stop offset="0.38" stop-color="#62250b"/><stop offset="0.59" stop-color="#964928"/><stop offset="0.79" stop-color="#c86c44"/><stop offset="1" stop-color="#e27e52"/></linearGradient><polygon points="-3.6,0 -1,1.7 3.6,0 3.6,-6.2 -1,-4.4 -3.6,-6.1" fill="url(#gao200)" stroke="#6c2a0c" stroke-opacity=".35" stroke-width=".3"/><path d="M-3.6 -3.3H3.6M-3.6 -1.8H3.6M-3.6 -0.3H3.6M-1.8 1.2H0.4" stroke="url(#gao200s)" stroke-width=".8" fill="none"/><path d="M-1 1.7V-4.4" stroke="#8d3610" stroke-opacity=".3" stroke-width=".35"/><polygon points="-1,-4.4 3.6,-6.2 1,-7.9 -3.6,-6.1" fill="#db5a22" stroke="#8d3610" stroke-opacity=".75" stroke-width=".45"/></g>
<g id="abt1"><polygon points="-3.6,-2.9 -1,-1.2 3.6,-2.9 3.6,-3.9 -1,-2.2 -3.6,-3.9" fill="#6badd9" stroke="#2687c7" stroke-width=".3" stroke-opacity=".7"/><polygon points="-1,-2.2 3.6,-3.9 1,-5.7 -3.6,-3.9" fill="#99c7e5" stroke="#2687c7" stroke-width=".4"/></g>
<g id="abt2"><polygon points="-3.6,-1.2 -1,0.5 3.6,-1.2 3.6,-3.9 -1,-2.2 -3.6,-3.9" fill="#6badd9" stroke="#2687c7" stroke-width=".3" stroke-opacity=".7"/><path d="M-3.6 -2.6L-1 -0.8L3.6 -2.6" stroke="#2687c7" stroke-width=".4" stroke-opacity=".6" fill="none"/><polygon points="-1,-2.2 3.6,-3.9 1,-5.7 -3.6,-3.9" fill="#8cc0e1" stroke="#2687c7" stroke-width=".4"/></g>
<g id="ab300"><linearGradient id="gab300" gradientUnits="userSpaceOnUse" x1="0" y1="-9.2" x2="0" y2="0.9"><stop offset="0" stop-color="#61a8d6"/><stop offset="0.58" stop-color="#61a8d6"/><stop offset="0.72" stop-color="#89bee0"/><stop offset="0.86" stop-color="#b3d5eb"/><stop offset="1" stop-color="#cce3f2"/></linearGradient><linearGradient id="gab300s" gradientUnits="userSpaceOnUse" x1="0" y1="-9.2" x2="0" y2="0.9"><stop offset="0" stop-color="#003355"/><stop offset="0.58" stop-color="#003355"/><stop offset="0.72" stop-color="#1a5b86"/><stop offset="0.86" stop-color="#3381b5"/><stop offset="1" stop-color="#4095ce"/></linearGradient><polygon points="-3.6,0 -1,1.7 3.6,0 3.6,-9.3 -1,-7.5 -3.6,-9.2" fill="url(#gab300)" stroke="#00395e" stroke-opacity=".35" stroke-width=".3"/><path d="M-3.6 -6.4H3.6M-3.6 -4.9H3.6M-3.6 -3.4H3.6M-3.6 -1.9H3.6M-3.6 -0.4H3.6M-1.9 1.1H0.6" stroke="url(#gab300s)" stroke-width=".8" fill="none"/><path d="M-1 1.7V-7.5" stroke="#004a7b" stroke-opacity=".3" stroke-width=".35"/><polygon points="-1,-7.5 3.6,-9.3 1,-11 -3.6,-9.2" fill="#0a78c0" stroke="#004a7b" stroke-opacity=".75" stroke-width=".45"/></g>
<g id="ab275"><linearGradient id="gab275" gradientUnits="userSpaceOnUse" x1="0" y1="-8.5" x2="0" y2="0.9"><stop offset="0" stop-color="#61a8d6"/><stop offset="0.55" stop-color="#61a8d6"/><stop offset="0.7" stop-color="#89bee0"/><stop offset="0.85" stop-color="#b3d5eb"/><stop offset="1" stop-color="#cce3f2"/></linearGradient><linearGradient id="gab275s" gradientUnits="userSpaceOnUse" x1="0" y1="-8.5" x2="0" y2="0.9"><stop offset="0" stop-color="#003355"/><stop offset="0.55" stop-color="#003355"/><stop offset="0.7" stop-color="#1a5b86"/><stop offset="0.85" stop-color="#3381b5"/><stop offset="1" stop-color="#4095ce"/></linearGradient><polygon points="-3.6,0 -1,1.7 3.6,0 3.6,-8.5 -1,-6.7 -3.6,-8.5" fill="url(#gab275)" stroke="#00395e" stroke-opacity=".35" stroke-width=".3"/><path d="M-3.6 -5.6H3.6M-3.6 -4.1H3.6M-3.6 -2.6H3.6M-3.6 -1.1H3.6M-3 0.4H2.5" stroke="url(#gab275s)" stroke-width=".8" fill="none"/><path d="M-1 1.7V-6.7" stroke="#004a7b" stroke-opacity=".3" stroke-width=".35"/><polygon points="-1,-6.7 3.6,-8.5 1,-10.2 -3.6,-8.5" fill="#0a78c0" stroke="#004a7b" stroke-opacity=".75" stroke-width=".45"/></g>
<g id="ab200"><linearGradient id="gab200" gradientUnits="userSpaceOnUse" x1="0" y1="-6.2" x2="0" y2="0.9"><stop offset="0" stop-color="#61a8d6"/><stop offset="0.38" stop-color="#61a8d6"/><stop offset="0.59" stop-color="#89bee0"/><stop offset="0.79" stop-color="#b3d5eb"/><stop offset="1" stop-color="#cce3f2"/></linearGradient><linearGradient id="gab200s" gradientUnits="userSpaceOnUse" x1="0" y1="-6.2" x2="0" y2="0.9"><stop offset="0" stop-color="#003355"/><stop offset="0.38" stop-color="#003355"/><stop offset="0.59" stop-color="#1a5b86"/><stop offset="0.79" stop-color="#3381b5"/><stop offset="1" stop-color="#4095ce"/></linearGradient><polygon points="-3.6,0 -1,1.7 3.6,0 3.6,-6.2 -1,-4.4 -3.6,-6.1" fill="url(#gab200)" stroke="#00395e" stroke-opacity=".35" stroke-width=".3"/><path d="M-3.6 -3.3H3.6M-3.6 -1.8H3.6M-3.6 -0.3H3.6M-1.8 1.2H0.4" stroke="url(#gab200s)" stroke-width=".8" fill="none"/><path d="M-1 1.7V-4.4" stroke="#004a7b" stroke-opacity=".3" stroke-width=".35"/><polygon points="-1,-4.4 3.6,-6.2 1,-7.9 -3.6,-6.1" fill="#0a78c0" stroke="#004a7b" stroke-opacity=".75" stroke-width=".45"/></g>
<g id="ao325"><linearGradient id="gao325" gradientUnits="userSpaceOnUse" x1="0" y1="-10" x2="0" y2="0.9"><stop offset="0" stop-color="#e79470"/><stop offset="0.62" stop-color="#e79470"/><stop offset="0.75" stop-color="#edaf94"/><stop offset="0.87" stop-color="#f4cbba"/><stop offset="1" stop-color="#f7ddd1"/></linearGradient><linearGradient id="gao325s" gradientUnits="userSpaceOnUse" x1="0" y1="-10" x2="0" y2="0.9"><stop offset="0" stop-color="#62250b"/><stop offset="0.62" stop-color="#62250b"/><stop offset="0.75" stop-color="#964928"/><stop offset="0.87" stop-color="#c86c44"/><stop offset="1" stop-color="#e27e52"/></linearGradient><polygon points="-3.6,0 -1,1.7 3.6,0 3.6,-10 -1,-8.3 -3.6,-10" fill="url(#gao325)" stroke="#6c2a0c" stroke-opacity=".35" stroke-width=".3"/><path d="M-3.6 -7.1H3.6M-3.6 -5.6H3.6M-3.6 -4.1H3.6M-3.6 -2.6H3.6M-3.6 -1.1H3.6M-3.1 0.4H2.6" stroke="url(#gao325s)" stroke-width=".8" fill="none"/><path d="M-1 1.7V-8.3" stroke="#8d3610" stroke-opacity=".3" stroke-width=".35"/><polygon points="-1,-8.3 3.6,-10 1,-11.8 -3.6,-10" fill="#db5a22" stroke="#8d3610" stroke-opacity=".75" stroke-width=".45"/></g>
<g id="ap250"><linearGradient id="gap250" gradientUnits="userSpaceOnUse" x1="0" y1="-7.7" x2="0" y2="0.9"><stop offset="0" stop-color="#af7eb9"/><stop offset="0.5" stop-color="#af7eb9"/><stop offset="0.67" stop-color="#c39fcb"/><stop offset="0.83" stop-color="#d8c1dd"/><stop offset="1" stop-color="#e5d5e8"/></linearGradient><linearGradient id="gap250s" gradientUnits="userSpaceOnUse" x1="0" y1="-7.7" x2="0" y2="0.9"><stop offset="0" stop-color="#391540"/><stop offset="0.5" stop-color="#391540"/><stop offset="0.67" stop-color="#62356b"/><stop offset="0.83" stop-color="#8a5395"/><stop offset="1" stop-color="#9e63aa"/></linearGradient><polygon points="-3.6,0 -1,1.7 3.6,0 3.6,-7.7 -1,-6 -3.6,-7.7" fill="url(#gap250)" stroke="#3f1847" stroke-opacity=".35" stroke-width=".3"/><path d="M-3.6 -4.8H3.6M-3.6 -3.3H3.6M-3.6 -1.8H3.6M-3.6 -0.3H3.6M-1.8 1.2H0.5" stroke="url(#gap250s)" stroke-width=".8" fill="none"/><path d="M-1 1.7V-6" stroke="#521f5c" stroke-opacity=".3" stroke-width=".35"/><polygon points="-1,-6 3.6,-7.7 1,-9.4 -3.6,-7.7" fill="#833793" stroke="#521f5c" stroke-opacity=".75" stroke-width=".45"/></g>
<g id="ab250"><linearGradient id="gab250" gradientUnits="userSpaceOnUse" x1="0" y1="-7.7" x2="0" y2="0.9"><stop offset="0" stop-color="#61a8d6"/><stop offset="0.5" stop-color="#61a8d6"/><stop offset="0.67" stop-color="#89bee0"/><stop offset="0.83" stop-color="#b3d5eb"/><stop offset="1" stop-color="#cce3f2"/></linearGradient><linearGradient id="gab250s" gradientUnits="userSpaceOnUse" x1="0" y1="-7.7" x2="0" y2="0.9"><stop offset="0" stop-color="#003355"/><stop offset="0.5" stop-color="#003355"/><stop offset="0.67" stop-color="#1a5b86"/><stop offset="0.83" stop-color="#3381b5"/><stop offset="1" stop-color="#4095ce"/></linearGradient><polygon points="-3.6,0 -1,1.7 3.6,0 3.6,-7.7 -1,-6 -3.6,-7.7" fill="url(#gab250)" stroke="#00395e" stroke-opacity=".35" stroke-width=".3"/><path d="M-3.6 -4.8H3.6M-3.6 -3.3H3.6M-3.6 -1.8H3.6M-3.6 -0.3H3.6M-1.8 1.2H0.5" stroke="url(#gab250s)" stroke-width=".8" fill="none"/><path d="M-1 1.7V-6" stroke="#004a7b" stroke-opacity=".3" stroke-width=".35"/><polygon points="-1,-6 3.6,-7.7 1,-9.4 -3.6,-7.7" fill="#0a78c0" stroke="#004a7b" stroke-opacity=".75" stroke-width=".45"/></g>
<g id="ap175"><linearGradient id="gap175" gradientUnits="userSpaceOnUse" x1="0" y1="-5.4" x2="0" y2="0.9"><stop offset="0" stop-color="#af7eb9"/><stop offset="0.29" stop-color="#af7eb9"/><stop offset="0.53" stop-color="#c39fcb"/><stop offset="0.76" stop-color="#d8c1dd"/><stop offset="1" stop-color="#e5d5e8"/></linearGradient><linearGradient id="gap175s" gradientUnits="userSpaceOnUse" x1="0" y1="-5.4" x2="0" y2="0.9"><stop offset="0" stop-color="#391540"/><stop offset="0.29" stop-color="#391540"/><stop offset="0.53" stop-color="#62356b"/><stop offset="0.76" stop-color="#8a5395"/><stop offset="1" stop-color="#9e63aa"/></linearGradient><polygon points="-3.6,0 -1,1.7 3.6,0 3.6,-5.4 -1,-3.6 -3.6,-5.4" fill="url(#gap175)" stroke="#3f1847" stroke-opacity=".35" stroke-width=".3"/><path d="M-3.6 -2.5H3.6M-3.6 -1H3.6M-2.9 0.5H2.3" stroke="url(#gap175s)" stroke-width=".8" fill="none"/><path d="M-1 1.7V-3.6" stroke="#521f5c" stroke-opacity=".3" stroke-width=".35"/><polygon points="-1,-3.6 3.6,-5.4 1,-7.1 -3.6,-5.4" fill="#833793" stroke="#521f5c" stroke-opacity=".75" stroke-width=".45"/></g>
<g id="ay325"><linearGradient id="gay325" gradientUnits="userSpaceOnUse" x1="0" y1="-10" x2="0" y2="0.9"><stop offset="0" stop-color="#f4cf75"/><stop offset="0.62" stop-color="#f4cf75"/><stop offset="0.75" stop-color="#f7db98"/><stop offset="0.87" stop-color="#fae8bc"/><stop offset="1" stop-color="#fbefd2"/></linearGradient><linearGradient id="gay325s" gradientUnits="userSpaceOnUse" x1="0" y1="-10" x2="0" y2="0.9"><stop offset="0" stop-color="#6b500e"/><stop offset="0.62" stop-color="#6b500e"/><stop offset="0.75" stop-color="#a17f2c"/><stop offset="0.87" stop-color="#d6ad49"/><stop offset="1" stop-color="#f2c458"/></linearGradient><polygon points="-3.6,0 -1,1.7 3.6,0 3.6,-10 -1,-8.3 -3.6,-10" fill="url(#gay325)" stroke="#765810" stroke-opacity=".35" stroke-width=".3"/><path d="M-3.6 -7.1H3.6M-3.6 -5.6H3.6M-3.6 -4.1H3.6M-3.6 -2.6H3.6M-3.6 -1.1H3.6M-3.1 0.4H2.6" stroke="url(#gay325s)" stroke-width=".8" fill="none"/><path d="M-1 1.7V-8.3" stroke="#9a7315" stroke-opacity=".3" stroke-width=".35"/><polygon points="-1,-8.3 3.6,-10 1,-11.8 -3.6,-10" fill="#eeb429" stroke="#9a7315" stroke-opacity=".75" stroke-width=".45"/></g>
<g id="ay175"><linearGradient id="gay175" gradientUnits="userSpaceOnUse" x1="0" y1="-5.4" x2="0" y2="0.9"><stop offset="0" stop-color="#f4cf75"/><stop offset="0.29" stop-color="#f4cf75"/><stop offset="0.53" stop-color="#f7db98"/><stop offset="0.76" stop-color="#fae8bc"/><stop offset="1" stop-color="#fbefd2"/></linearGradient><linearGradient id="gay175s" gradientUnits="userSpaceOnUse" x1="0" y1="-5.4" x2="0" y2="0.9"><stop offset="0" stop-color="#6b500e"/><stop offset="0.29" stop-color="#6b500e"/><stop offset="0.53" stop-color="#a17f2c"/><stop offset="0.76" stop-color="#d6ad49"/><stop offset="1" stop-color="#f2c458"/></linearGradient><polygon points="-3.6,0 -1,1.7 3.6,0 3.6,-5.4 -1,-3.6 -3.6,-5.4" fill="url(#gay175)" stroke="#765810" stroke-opacity=".35" stroke-width=".3"/><path d="M-3.6 -2.5H3.6M-3.6 -1H3.6M-2.9 0.5H2.3" stroke="url(#gay175s)" stroke-width=".8" fill="none"/><path d="M-1 1.7V-3.6" stroke="#9a7315" stroke-opacity=".3" stroke-width=".35"/><polygon points="-1,-3.6 3.6,-5.4 1,-7.1 -3.6,-5.4" fill="#eeb429" stroke="#9a7315" stroke-opacity=".75" stroke-width=".45"/></g>
<g id="ao275"><linearGradient id="gao275" gradientUnits="userSpaceOnUse" x1="0" y1="-8.5" x2="0" y2="0.9"><stop offset="0" stop-color="#e79470"/><stop offset="0.55" stop-color="#e79470"/><stop offset="0.7" stop-color="#edaf94"/><stop offset="0.85" stop-color="#f4cbba"/><stop offset="1" stop-color="#f7ddd1"/></linearGradient><linearGradient id="gao275s" gradientUnits="userSpaceOnUse" x1="0" y1="-8.5" x2="0" y2="0.9"><stop offset="0" stop-color="#62250b"/><stop offset="0.55" stop-color="#62250b"/><stop offset="0.7" stop-color="#964928"/><stop offset="0.85" stop-color="#c86c44"/><stop offset="1" stop-color="#e27e52"/></linearGradient><polygon points="-3.6,0 -1,1.7 3.6,0 3.6,-8.5 -1,-6.7 -3.6,-8.5" fill="url(#gao275)" stroke="#6c2a0c" stroke-opacity=".35" stroke-width=".3"/><path d="M-3.6 -5.6H3.6M-3.6 -4.1H3.6M-3.6 -2.6H3.6M-3.6 -1.1H3.6M-3 0.4H2.5" stroke="url(#gao275s)" stroke-width=".8" fill="none"/><path d="M-1 1.7V-6.7" stroke="#8d3610" stroke-opacity=".3" stroke-width=".35"/><polygon points="-1,-6.7 3.6,-8.5 1,-10.2 -3.6,-8.5" fill="#db5a22" stroke="#8d3610" stroke-opacity=".75" stroke-width=".45"/></g>
<g id="ao175"><linearGradient id="gao175" gradientUnits="userSpaceOnUse" x1="0" y1="-5.4" x2="0" y2="0.9"><stop offset="0" stop-color="#e79470"/><stop offset="0.29" stop-color="#e79470"/><stop offset="0.53" stop-color="#edaf94"/><stop offset="0.76" stop-color="#f4cbba"/><stop offset="1" stop-color="#f7ddd1"/></linearGradient><linearGradient id="gao175s" gradientUnits="userSpaceOnUse" x1="0" y1="-5.4" x2="0" y2="0.9"><stop offset="0" stop-color="#62250b"/><stop offset="0.29" stop-color="#62250b"/><stop offset="0.53" stop-color="#964928"/><stop offset="0.76" stop-color="#c86c44"/><stop offset="1" stop-color="#e27e52"/></linearGradient><polygon points="-3.6,0 -1,1.7 3.6,0 3.6,-5.4 -1,-3.6 -3.6,-5.4" fill="url(#gao175)" stroke="#6c2a0c" stroke-opacity=".35" stroke-width=".3"/><path d="M-3.6 -2.5H3.6M-3.6 -1H3.6M-2.9 0.5H2.3" stroke="url(#gao175s)" stroke-width=".8" fill="none"/><path d="M-1 1.7V-3.6" stroke="#8d3610" stroke-opacity=".3" stroke-width=".35"/><polygon points="-1,-3.6 3.6,-5.4 1,-7.1 -3.6,-5.4" fill="#db5a22" stroke="#8d3610" stroke-opacity=".75" stroke-width=".45"/></g>
</defs>
<use href="#apt1" x="147.9" y="59.8"/>
<use href="#apt2" x="139.6" y="63"/>
<use href="#ap275" x="131.3" y="66.1"/>
<use href="#ap300" x="123" y="69.3"/>
<use href="#ap300" x="114.7" y="72.5"/>
<use href="#ap325" x="106.4" y="75.7"/>
<use href="#ap300" x="98.1" y="78.9"/>
<use href="#ap200" x="89.8" y="82.1"/>
<use href="#apt1" x="81.5" y="85.3"/>
<use href="#ayt1" x="153.8" y="63.6"/>
<use href="#ay350" x="145.5" y="66.8"/>
<use href="#ay425" x="137.2" y="70"/>
<use href="#ay400" x="128.9" y="73.2"/>
<use href="#ay375" x="120.6" y="76.4"/>
<use href="#ay450" x="112.3" y="79.6"/>
<use href="#ay300" x="104" y="82.7"/>
<use href="#ay200" x="95.7" y="85.9"/>
<use href="#ayt1" x="87.4" y="89.1"/>
<use href="#aot1" x="159.7" y="67.5"/>
<use href="#aot2" x="151.4" y="70.6"/>
<use href="#ao350" x="143.1" y="73.8"/>
<use href="#ao375" x="134.8" y="77"/>
<use href="#ao375" x="126.5" y="80.2"/>
<use href="#ao350" x="118.2" y="83.4"/>
<use href="#ao300" x="109.9" y="86.6"/>
<use href="#ao200" x="101.6" y="89.8"/>
<use href="#aot1" x="93.3" y="93"/>
<use href="#abt1" x="165.6" y="71.3"/>
<use href="#abt2" x="157.3" y="74.5"/>
<use href="#ab300" x="149" y="77.7"/>
<use href="#ab300" x="140.7" y="80.9"/>
<use href="#ab300" x="132.4" y="84.1"/>
<use href="#ab300" x="124.1" y="87.2"/>
<use href="#ab275" x="115.8" y="90.4"/>
<use href="#ab200" x="107.5" y="93.6"/>
<use href="#abt1" x="99.2" y="96.8"/>
<use href="#apt1" x="180.3" y="80.8"/>
<use href="#apt2" x="171.9" y="84"/>
<use href="#ap275" x="163.6" y="87.2"/>
<use href="#ap275" x="155.3" y="90.4"/>
<use href="#ap300" x="147" y="93.6"/>
<use href="#ap325" x="138.7" y="96.8"/>
<use href="#ap300" x="130.4" y="100"/>
<use href="#ap200" x="122.1" y="103.1"/>
<use href="#apt1" x="113.8" y="106.3"/>
<use href="#ayt1" x="186.1" y="84.7"/>
<use href="#ay350" x="177.8" y="87.9"/>
<use href="#ay425" x="169.5" y="91"/>
<use href="#ay400" x="161.2" y="94.2"/>
<use href="#ay375" x="152.9" y="97.4"/>
<use href="#ay450" x="144.6" y="100.6"/>
<use href="#ay300" x="136.3" y="103.8"/>
<use href="#ay200" x="128" y="107"/>
<use href="#ayt1" x="119.7" y="110.2"/>
<use href="#aot1" x="192" y="88.5"/>
<use href="#aot2" x="183.7" y="91.7"/>
<use href="#ao325" x="175.4" y="94.9"/>
<use href="#ao350" x="167.1" y="98.1"/>
<use href="#ao375" x="158.8" y="101.3"/>
<use href="#ao350" x="150.5" y="104.5"/>
<use href="#ao300" x="142.2" y="107.6"/>
<use href="#ao200" x="133.9" y="110.8"/>
<use href="#aot1" x="125.6" y="114"/>
<use href="#abt1" x="197.9" y="92.3"/>
<use href="#abt2" x="189.6" y="95.5"/>
<use href="#ab275" x="181.3" y="98.7"/>
<use href="#ab300" x="173" y="101.9"/>
<use href="#ab300" x="164.7" y="105.1"/>
<use href="#ab300" x="156.4" y="108.3"/>
<use href="#ab275" x="148.1" y="111.5"/>
<use href="#ab200" x="139.8" y="114.7"/>
<use href="#abt1" x="131.5" y="117.9"/>
<use href="#apt1" x="212.6" y="101.9"/>
<use href="#apt2" x="204.3" y="105.1"/>
<use href="#ap250" x="196" y="108.3"/>
<use href="#ap275" x="187.7" y="111.4"/>
<use href="#ap300" x="179.3" y="114.6"/>
<use href="#ap300" x="171" y="117.8"/>
<use href="#ap300" x="162.7" y="121"/>
<use href="#ap200" x="154.4" y="124.2"/>
<use href="#apt1" x="146.1" y="127.4"/>
<use href="#ayt1" x="218.5" y="105.7"/>
<use href="#ay350" x="210.2" y="108.9"/>
<use href="#ay400" x="201.9" y="112.1"/>
<use href="#ay400" x="193.6" y="115.3"/>
<use href="#ay375" x="185.2" y="118.5"/>
<use href="#ay425" x="176.9" y="121.7"/>
<use href="#ay300" x="168.6" y="124.9"/>
<use href="#ay200" x="160.3" y="128"/>
<use href="#ayt1" x="152" y="131.2"/>
<use href="#aot1" x="224.4" y="109.6"/>
<use href="#aot2" x="216.1" y="112.7"/>
<use href="#ao325" x="207.8" y="115.9"/>
<use href="#ao350" x="199.4" y="119.1"/>
<use href="#ao375" x="191.1" y="122.3"/>
<use href="#ao350" x="182.8" y="125.5"/>
<use href="#ao300" x="174.5" y="128.7"/>
<use href="#ao200" x="166.2" y="131.9"/>
<use href="#aot1" x="157.9" y="135.1"/>
<use href="#abt1" x="230.3" y="113.4"/>
<use href="#abt2" x="222" y="116.6"/>
<use href="#ab275" x="213.7" y="119.8"/>
<use href="#ab300" x="205.3" y="123"/>
<use href="#ab300" x="197" y="126.2"/>
<use href="#ab300" x="188.7" y="129.3"/>
<use href="#ab250" x="180.4" y="132.5"/>
<use href="#ab200" x="172.1" y="135.7"/>
<use href="#abt1" x="163.8" y="138.9"/>
<use href="#apt1" x="244.9" y="122.9"/>
<use href="#apt2" x="236.6" y="126.1"/>
<use href="#ap250" x="228.3" y="129.3"/>
<use href="#ap275" x="220" y="132.5"/>
<use href="#ap300" x="211.7" y="135.7"/>
<use href="#ap300" x="203.4" y="138.9"/>
<use href="#ap275" x="195.1" y="142.1"/>
<use href="#ap175" x="186.7" y="145.3"/>
<use href="#apt1" x="178.4" y="148.4"/>
<use href="#ayt1" x="250.8" y="126.8"/>
<use href="#ay325" x="242.5" y="130"/>
<use href="#ay400" x="234.2" y="133.1"/>
<use href="#ay375" x="225.9" y="136.3"/>
<use href="#ay375" x="217.6" y="139.5"/>
<use href="#ay425" x="209.3" y="142.7"/>
<use href="#ay300" x="201" y="145.9"/>
<use href="#ay175" x="192.6" y="149.1"/>
<use href="#ayt1" x="184.3" y="152.3"/>
<use href="#aot1" x="256.7" y="130.6"/>
<use href="#aot2" x="248.4" y="133.8"/>
<use href="#ao325" x="240.1" y="137"/>
<use href="#ao350" x="231.8" y="140.2"/>
<use href="#ao375" x="223.5" y="143.4"/>
<use href="#ao325" x="215.2" y="146.6"/>
<use href="#ao275" x="206.9" y="149.7"/>
<use href="#ao175" x="198.5" y="152.9"/>
<use href="#aot1" x="190.2" y="156.1"/>
<use href="#abt1" x="262.6" y="134.4"/>
<use href="#abt2" x="254.3" y="137.6"/>
<use href="#ab275" x="246" y="140.8"/>
<use href="#ab275" x="237.7" y="144"/>
<use href="#ab300" x="229.4" y="147.2"/>
<use href="#ab275" x="221.1" y="150.4"/>
<use href="#ab250" x="212.7" y="153.6"/>
<use href="#ab200" x="204.4" y="156.8"/>
<use href="#abt1" x="196.1" y="160"/>
<use href="#apt1" x="277.2" y="144"/>
<use href="#apt2" x="268.9" y="147.2"/>
<use href="#ap250" x="260.6" y="150.4"/>
<use href="#ap275" x="252.3" y="153.5"/>
<use href="#ap300" x="244" y="156.7"/>
<use href="#ap300" x="235.7" y="159.9"/>
<use href="#ap275" x="227.4" y="163.1"/>
<use href="#ap175" x="219.1" y="166.3"/>
<use href="#apt1" x="210.8" y="169.5"/>
<use href="#ayt1" x="283.1" y="147.8"/>
<use href="#ay325" x="274.8" y="151"/>
<use href="#ay400" x="266.5" y="154.2"/>
<use href="#ay375" x="258.2" y="157.4"/>
<use href="#ay350" x="249.9" y="160.6"/>
<use href="#ay425" x="241.6" y="163.8"/>
<use href="#ay300" x="233.3" y="167"/>
<use href="#ay175" x="225" y="170.1"/>
<use href="#ayt1" x="216.7" y="173.3"/>
<use href="#aot1" x="289" y="151.7"/>
<use href="#aot2" x="280.7" y="154.8"/>
<use href="#ao325" x="272.4" y="158"/>
<use href="#ao325" x="264.1" y="161.2"/>
<use href="#ao350" x="255.8" y="164.4"/>
<use href="#ao325" x="247.5" y="167.6"/>
<use href="#ao275" x="239.2" y="170.8"/>
<use href="#ao175" x="230.9" y="174"/>
<use href="#aot1" x="222.6" y="177.2"/>
<use href="#abt1" x="294.9" y="155.5"/>
<use href="#abt2" x="286.6" y="158.7"/>
<use href="#ab275" x="278.3" y="161.9"/>
<use href="#ab275" x="270" y="165.1"/>
<use href="#ab300" x="261.7" y="168.3"/>
<use href="#ab275" x="253.4" y="171.4"/>
<use href="#ab250" x="245.1" y="174.6"/>
<use href="#ab200" x="236.8" y="177.8"/>
<use href="#abt1" x="228.5" y="181"/>
<g fill="none" stroke="#3a3a3a" stroke-width=".6">
<path d="M253.3 193.1l4.7 3.1"/>
<path d="M262 189.8l4.7 3.1"/>
<path d="M270.7 186.4l4.7 3.1"/>
<path d="M279.4 183.1l4.7 3.1"/>
<path d="M288.1 179.7l4.7 3.1"/>
<path d="M296.8 176.4l4.7 3.1"/>
<path d="M305.5 173.1l4.7 3.1"/>
<path d="M314.2 169.7l4.7 3.1"/>
<path d="M322.9 166.4l4.7 3.1"/>
<path d="M331.6 163l4.7 3.1"/>
<path d="M340.3 159.7l4.7 3.1"/>
<path d="M212 174.8l-4.7 1.8"/>
<path d="M179.7 153.8l-4.7 1.8"/>
<path d="M147.4 132.8l-4.7 1.8"/>
<path d="M115.1 111.7l-4.7 1.8"/>
<path d="M82.9 90.7l-4.7 1.8"/>
<path d="M49.7 69.1l-2.4 -0.9" stroke-width=".4"/>
<path d="M49.7 67.6l-2.4 -0.9" stroke-width=".4"/>
<path d="M49.7 66l-2.4 -0.9" stroke-width=".4"/>
<path d="M49.7 64.5l-2.4 -0.9" stroke-width=".4"/>
<path d="M49.7 63l-2.4 -0.9" stroke-width=".4"/>
<path d="M49.7 61.4l-2.4 -0.9" stroke-width=".4"/>
<path d="M49.7 59.9l-2.4 -0.9" stroke-width=".4"/>
<path d="M49.7 58.4l-2.4 -0.9" stroke-width=".4"/>
<path d="M49.7 56.9l-2.4 -0.9" stroke-width=".4"/>
<path d="M49.7 55.3l-2.4 -0.9" stroke-width=".4"/>
<path d="M49.7 53.8l-2.4 -0.9" stroke-width=".4"/>
<path d="M49.7 52.3l-2.4 -0.9" stroke-width=".4"/>
<path d="M49.7 50.7l-2.4 -0.9" stroke-width=".4"/>
<path d="M49.7 49.2l-2.4 -0.9" stroke-width=".4"/>
<path d="M49.7 65.3l-4.2 -1.6"/>
<path d="M49.7 57.6l-4.2 -1.6"/>
<path d="M49.7 49.9l-4.2 -1.6"/>
</g>
<text x="263" y="203.2" font-size="7" text-anchor="middle" transform="rotate(-8 263 203.2)">15</text>
<text x="271.4" y="200" font-size="7" text-anchor="middle" transform="rotate(-8 271.4 200)">16</text>
<text x="279.9" y="196.9" font-size="7" text-anchor="middle" transform="rotate(-8 279.9 196.9)">17</text>
<text x="288.4" y="193.8" font-size="7" text-anchor="middle" transform="rotate(-8 288.4 193.8)">18</text>
<text x="296.8" y="190.6" font-size="7" text-anchor="middle" transform="rotate(-8 296.8 190.6)">19</text>
<text x="305.2" y="187.4" font-size="7" text-anchor="middle" transform="rotate(-8 305.2 187.4)">20</text>
<text x="313.7" y="184.3" font-size="7" text-anchor="middle" transform="rotate(-8 313.7 184.3)">21</text>
<text x="322.1" y="181.1" font-size="7" text-anchor="middle" transform="rotate(-8 322.1 181.1)">22</text>
<text x="330.6" y="178" font-size="7" text-anchor="middle" transform="rotate(-8 330.6 178)">23</text>
<text x="339.1" y="174.8" font-size="7" text-anchor="middle" transform="rotate(-8 339.1 174.8)">24</text>
<text x="347.5" y="171.7" font-size="7" text-anchor="middle" transform="rotate(-8 347.5 171.7)">25</text>
<text x="202" y="185.6" font-size="7.4" text-anchor="middle">10</text>
<text x="169.6" y="164.2" font-size="7.4" text-anchor="middle">20</text>
<text x="137.2" y="142.8" font-size="7.4" text-anchor="middle">30</text>
<text x="104.8" y="121.4" font-size="7.4" text-anchor="middle">40</text>
<text x="72.4" y="100" font-size="7.4" text-anchor="middle">50</text>
<text x="44.3" y="52.4" font-size="6.9" text-anchor="end">-5</text>
<text x="44.3" y="60" font-size="6.9" text-anchor="end">-2.5</text>
<text x="44.3" y="67.5" font-size="6.9" text-anchor="end">-0</text>
<text x="28" y="58.9" font-size="8" text-anchor="middle" transform="rotate(-90 28 58.9)" textLength="46" lengthAdjust="spacingAndGlyphs">N.B.M (kNM)</text>
<text x="311.1" y="200.7" font-size="8" text-anchor="middle" transform="rotate(-21 311.1 200.7)" textLength="37" lengthAdjust="spacingAndGlyphs">Sleeper No</text>
<text x="158.1" y="176.9" font-size="8" text-anchor="middle" transform="rotate(39 158.1 176.9)" textLength="31" lengthAdjust="spacingAndGlyphs">Vel. (m/s)</text>
</g>
<g id="chartB">
<g fill="none" stroke="#dcdcdc" stroke-width=".5">
<path d="M251.6 453.7L60.9 329.9"/>
<path d="M60.9 329.9V299.4"/>
<path d="M260.2 450.5L69.5 326.7"/>
<path d="M69.5 326.7V296.2"/>
<path d="M268.8 447.2L78.1 323.4"/>
<path d="M78.1 323.4V292.9"/>
<path d="M277.3 444L86.6 320.2"/>
<path d="M86.6 320.2V289.7"/>
<path d="M285.9 440.8L95.2 317"/>
<path d="M95.2 317V286.5"/>
<path d="M294.5 437.5L103.8 313.7"/>
<path d="M103.8 313.7V283.2"/>
<path d="M303 434.3L112.3 310.5"/>
<path d="M112.3 310.5V280"/>
<path d="M311.6 431.1L120.9 307.3"/>
<path d="M120.9 307.3V276.8"/>
<path d="M320.1 427.9L129.4 304.1"/>
<path d="M129.4 304.1V273.6"/>
<path d="M328.7 424.6L138 300.8"/>
<path d="M138 300.8V270.3"/>
<path d="M337.3 421.4L146.6 297.6"/>
<path d="M146.6 297.6V267.1"/>
<path d="M211.7 436.2L311.4 398.6"/>
<path d="M311.4 398.6V368.1"/>
<path d="M180 415.6L279.7 378"/>
<path d="M279.7 378V347.5"/>
<path d="M148.2 395L247.9 357.4"/>
<path d="M247.9 357.4V326.9"/>
<path d="M116.4 374.3L216.1 336.7"/>
<path d="M216.1 336.7V306.2"/>
<path d="M84.6 353.7L184.3 316.1"/>
<path d="M184.3 316.1V285.6"/>
<path d="M52.7 329.2L152.4 291.6L343.1 415.4"/>
<path d="M52.7 321.6L152.4 284L343.1 407.8"/>
<path d="M52.7 313.9L152.4 276.3L343.1 400.1"/>
<path d="M52.7 306.3L152.4 268.7L343.1 392.5"/>
</g>
<g fill="none" stroke="#404040" stroke-width=".62" stroke-linejoin="round">
<path d="M52.7 333L152.4 295.4L343.1 419.2L243.4 456.8Z"/>
<path d="M52.7 302.5L152.4 264.9L343.1 388.7"/>
<path d="M52.7 333V302.5"/>
<path d="M152.4 295.4V264.9"/>
<path d="M343.1 419.2V388.7"/>
</g>
<g fill="none" stroke="#c58787" stroke-width=".45" stroke-opacity="0.75">
<path d="M159.4 291.6L171.7 299.3"/>
<path d="M159.4 289.6L171.7 296.5"/>
<path d="M159.4 287.7L171.7 293.8"/>
<path d="M173.4 304.6L187.4 315.1L212.1 327.1"/>
<path d="M173.4 291.7L187.4 297.4L212.1 305.8"/>
<path d="M173.4 301.1L195.8 309.7L212.1 309.3"/>
<path d="M173.4 295L195.8 309.7L212.1 322.7"/>
<path d="M173.4 298.2L212.1 316"/>
<path d="M162.2 294.4L162.2 288M164.7 296.1L164.7 289.2M167.2 297.7L167.2 290.3M169.8 299.4L169.8 291.5M175.4 306.3L175.4 293.2M177.9 307.6L177.9 293.5M180.5 308.9L180.5 295.1M183 311.6L183 295.3M185.4 312.8L185.4 296.4M188 315.1L188 297.8M190.2 314.7L190.2 299.6M192.9 316.7L192.9 299.1M195.3 318.1L195.3 300.1M197.9 319.6L197.9 301.2M200.5 321.3L200.5 303.7M203 321.6L203 303.3M205.5 323.5L205.5 303.5M208.1 324.7L208.1 306.1M210.4 324.2L210.4 307.2"/>
<path d="M191.4 315.6L191.4 311.8M192.5 316.2L192.5 312.2M193.6 316.7L193.6 312.7M194.7 317.2L194.7 313.2M195.8 317.7L195.8 313.7M197 318.3L197 314.2M198.1 318.8L198.1 314.7M199.2 319.3L199.2 315.2M200.3 319.8L200.3 315.7M201.4 320.4L201.4 316.2M202.6 320.9L202.6 316.7M203.7 321.4L203.7 317.2M204.8 321.9L204.8 317.7M205.9 322.4L205.9 318.2M207.1 323L207.1 318.7M208.2 323.5L208.2 319.2M209.3 324L209.3 319.7M210.4 324.5L210.4 320.1M211.5 325.1L211.5 320.6M191.4 304L191.4 300.1M192.5 304.4L192.5 300.5M193.6 304.9L193.6 300.9M194.7 305.3L194.7 301.3M195.8 305.7L195.8 301.7M197 306.2L197 302.1M198.1 306.6L198.1 302.5M199.2 307L199.2 302.9M200.3 307.5L200.3 303.3M201.4 307.9L201.4 303.7M202.6 308.3L202.6 304.1M203.7 308.8L203.7 304.5M204.8 309.2L204.8 304.9M205.9 309.6L205.9 305.3M207.1 310.1L207.1 305.8M208.2 310.5L208.2 306.2M209.3 310.9L209.3 306.6M210.4 311.4L210.4 307M211.5 311.8L211.5 307.4" stroke-opacity=".55"/>
</g>
<path d="M184.6 306.4L195.8 309.7L203.7 315.9" stroke="#555" stroke-opacity=".8" stroke-width=".5" fill="none"/>
<polygon points="157.4,294.7 162.6,298.1 162.6,287.1 157.4,283.7" fill="none" stroke="#c58787" stroke-width=".4" stroke-opacity=".8"/>
<polygon points="158.6,293.3 160.9,294.8 160.9,288.4 158.6,286.9" fill="#1f8a5b" stroke="#1a5f43" stroke-width=".3"/>
<polygon points="171.5,304.1 173.9,305.7 173.9,291.9 171.5,290.4" fill="#edb120"/>
<g fill="none" stroke="#c58787" stroke-width=".45" stroke-opacity="0.75">
<path d="M222.4 332.5L234.9 340.3"/>
<path d="M222.4 330.5L234.9 337.5"/>
<path d="M222.4 328.6L234.9 334.8"/>
<path d="M236.6 345.6L250.8 356.3L275.8 368.4"/>
<path d="M236.6 332.7L250.8 338.5L275.8 347.1"/>
<path d="M236.6 342.1L259.3 350.9L275.8 350.7"/>
<path d="M236.6 336L259.3 350.9L275.8 364"/>
<path d="M236.6 339.2L275.8 357.3"/>
<path d="M225.2 335.3L225.2 328.9M227.8 337L227.8 330.1M230.3 338.7L230.3 331.3M232.9 340.3L232.9 332.5M238.6 346.1L238.6 333.4M240.8 347.6L240.8 334.4M243.2 349.8L243.2 335.7M245.9 352.4L245.9 337.9M248.3 353.5L248.3 338.9M250.9 354.7L250.9 339.7M253.2 355.9L253.2 340.3M255.6 358.4L255.6 341.6M258.1 358.1L258.1 342.4M260.8 360.1L260.8 343.3M263.4 362L263.4 344.7M265.8 362L265.8 345.6M268.4 364.6L268.4 346.3M270.9 365.7L270.9 345.5M273.4 367.2L273.4 348.3M275.9 367.4L275.9 348.1"/>
<path d="M254.8 356.8L254.8 352.9M255.9 357.3L255.9 353.4M257 357.9L257 353.9M258.2 358.4L258.2 354.4M259.3 358.9L259.3 354.9M260.4 359.5L260.4 355.4M261.6 360L261.6 355.9M262.7 360.5L262.7 356.4M263.9 361.1L263.9 356.9M265 361.6L265 357.4M266.1 362.1L266.1 358M267.3 362.7L267.3 358.5M268.4 363.2L268.4 359M269.5 363.7L269.5 359.5M270.7 364.3L270.7 360M271.8 364.8L271.8 360.5M272.9 365.3L272.9 361M274.1 365.9L274.1 361.5M275.2 366.4L275.2 362M254.8 345.1L254.8 341.3M255.9 345.6L255.9 341.7M257 346L257 342.1M258.2 346.5L258.2 342.5M259.3 346.9L259.3 342.9M260.4 347.4L260.4 343.3M261.6 347.8L261.6 343.7M262.7 348.3L262.7 344.2M263.9 348.7L263.9 344.6M265 349.1L265 345M266.1 349.6L266.1 345.4M267.3 350L267.3 345.8M268.4 350.5L268.4 346.2M269.5 350.9L269.5 346.6M270.7 351.4L270.7 347.1M271.8 351.8L271.8 347.5M272.9 352.2L272.9 347.9M274.1 352.7L274.1 348.3M275.2 353.1L275.2 348.7" stroke-opacity=".55"/>
</g>
<path d="M247.9 347.5L259.3 350.9L267.3 357.2" stroke="#555" stroke-opacity=".8" stroke-width=".5" fill="none"/>
<polygon points="220.4,335.6 225.6,338.9 225.6,328 220.4,324.6" fill="none" stroke="#c58787" stroke-width=".4" stroke-opacity=".8"/>
<polygon points="221.5,334.2 223.8,335.7 223.8,329.3 221.5,327.8" fill="#1f8a5b" stroke="#1a5f43" stroke-width=".3"/>
<polygon points="234.6,345.1 236.5,346.3 236.5,332.6 234.6,331.4" fill="#d95319"/>
<g fill="none" stroke="#c58787" stroke-width=".45" stroke-opacity="0.75">
<path d="M286.1 373.8L298.5 381.6"/>
<path d="M286.1 371.9L298.5 378.8"/>
<path d="M286.1 369.9L298.5 376.1"/>
<path d="M300.2 387L314.4 397.5L339.3 409.7"/>
<path d="M300.2 374.1L314.4 379.8L339.3 388.4"/>
<path d="M300.2 383.4L322.9 392.2L339.3 391.9"/>
<path d="M300.2 377.3L322.9 392.2L339.3 405.2"/>
<path d="M300.2 380.5L339.3 398.6"/>
<path d="M288.9 376.6L288.9 370.2M291.4 378.3L291.4 371.4M294 380L294 372.6M296.5 381.7L296.5 373.8M302.2 387.4L302.2 375.9M304.9 390.7L304.9 376.5M307.3 391.7L307.3 376.8M309.7 393.5L309.7 378M312.1 396.1L312.1 378.8M314.7 397.1L314.7 380.7M317.3 398.5L317.3 380.7M320 399.2L320 382.8M322.5 399.7L322.5 383.2M325.1 402.1L325.1 384.5M327.7 403.5L327.7 384.4M330.2 403.8L330.2 386.4M332.6 405.1L332.6 386.4M335 406.9L335 388.6M337.3 408.5L337.3 387.9"/>
<path d="M318.3 398.1L318.3 394.2M319.5 398.6L319.5 394.7M320.6 399.1L320.6 395.2M321.7 399.7L321.7 395.7M322.9 400.2L322.9 396.2M324 400.7L324 396.7M325.1 401.3L325.1 397.2M326.3 401.8L326.3 397.7M327.4 402.3L327.4 398.2M328.5 402.9L328.5 398.7M329.7 403.4L329.7 399.2M330.8 403.9L330.8 399.7M331.9 404.4L331.9 400.2M333.1 405L333.1 400.7M334.2 405.5L334.2 401.2M335.3 406L335.3 401.7M336.5 406.6L336.5 402.2M337.6 407.1L337.6 402.7M338.7 407.6L338.7 403.2M318.3 386.4L318.3 382.5M319.5 386.9L319.5 382.9M320.6 387.3L320.6 383.4M321.7 387.7L321.7 383.8M322.9 388.2L322.9 384.2M324 388.6L324 384.6M325.1 389.1L325.1 385M326.3 389.5L326.3 385.4M327.4 389.9L327.4 385.8M328.5 390.4L328.5 386.2M329.7 390.8L329.7 386.6M330.8 391.3L330.8 387.1M331.9 391.7L331.9 387.5M333.1 392.2L333.1 387.9M334.2 392.6L334.2 388.3M335.3 393L335.3 388.7M336.5 393.5L336.5 389.1M337.6 393.9L337.6 389.5M338.7 394.4L338.7 389.9" stroke-opacity=".55"/>
</g>
<path d="M311.5 388.8L322.9 392.2L330.8 398.4" stroke="#555" stroke-opacity=".8" stroke-width=".5" fill="none"/>
<polygon points="284.1,376.9 289.3,380.3 289.3,369.3 284.1,365.9" fill="none" stroke="#c58787" stroke-width=".4" stroke-opacity=".8"/>
<polygon points="285.2,375.5 287.5,377 287.5,370.6 285.2,369.1" fill="#1f8a5b" stroke="#1a5f43" stroke-width=".3"/>
<polygon points="298.2,386.4 299.5,387.3 299.5,373.5 298.2,372.7" fill="#0072bd"/>
<defs>
<g id="bp300"><linearGradient id="gbp300" gradientUnits="userSpaceOnUse" x1="0" y1="-9.2" x2="0" y2="0.8"><stop offset="0" stop-color="#af7eb9"/><stop offset="0.58" stop-color="#af7eb9"/><stop offset="0.72" stop-color="#c39fcb"/><stop offset="0.86" stop-color="#d8c1dd"/><stop offset="1" stop-color="#e5d5e8"/></linearGradient><linearGradient id="gbp300s" gradientUnits="userSpaceOnUse" x1="0" y1="-9.2" x2="0" y2="0.8"><stop offset="0" stop-color="#391540"/><stop offset="0.58" stop-color="#391540"/><stop offset="0.72" stop-color="#62356b"/><stop offset="0.86" stop-color="#8a5395"/><stop offset="1" stop-color="#9e63aa"/></linearGradient><polygon points="-3.5,0.1 -1.1,1.7 3.5,-0.1 3.5,-9.2 -1.1,-7.5 -3.5,-9.1" fill="url(#gbp300)" stroke="#3f1847" stroke-opacity=".35" stroke-width=".3"/><path d="M-3.5 -6.4H3.5M-3.5 -4.9H3.5M-3.5 -3.4H3.5M-3.5 -1.9H3.5M-3.5 -0.4H3.5M-1.9 1.1H0.4" stroke="url(#gbp300s)" stroke-width=".8" fill="none"/><path d="M-1.1 1.7V-7.5" stroke="#521f5c" stroke-opacity=".3" stroke-width=".35"/><polygon points="-1.1,-7.5 3.5,-9.2 1.1,-10.8 -3.5,-9.1" fill="#833793" stroke="#521f5c" stroke-opacity=".75" stroke-width=".45"/></g>
<g id="bp325"><linearGradient id="gbp325" gradientUnits="userSpaceOnUse" x1="0" y1="-9.9" x2="0" y2="0.8"><stop offset="0" stop-color="#af7eb9"/><stop offset="0.62" stop-color="#af7eb9"/><stop offset="0.75" stop-color="#c39fcb"/><stop offset="0.87" stop-color="#d8c1dd"/><stop offset="1" stop-color="#e5d5e8"/></linearGradient><linearGradient id="gbp325s" gradientUnits="userSpaceOnUse" x1="0" y1="-9.9" x2="0" y2="0.8"><stop offset="0" stop-color="#391540"/><stop offset="0.62" stop-color="#391540"/><stop offset="0.75" stop-color="#62356b"/><stop offset="0.87" stop-color="#8a5395"/><stop offset="1" stop-color="#9e63aa"/></linearGradient><polygon points="-3.5,0.1 -1.1,1.7 3.5,-0.1 3.5,-10 -1.1,-8.3 -3.5,-9.9" fill="url(#gbp325)" stroke="#3f1847" stroke-opacity=".35" stroke-width=".3"/><path d="M-3.5 -7.2H3.5M-3.5 -5.7H3.5M-3.5 -4.2H3.5M-3.5 -2.7H3.5M-3.5 -1.2H3.5M-3.1 0.3H2.4" stroke="url(#gbp325s)" stroke-width=".8" fill="none"/><path d="M-1.1 1.7V-8.3" stroke="#521f5c" stroke-opacity=".3" stroke-width=".35"/><polygon points="-1.1,-8.3 3.5,-10 1.1,-11.6 -3.5,-9.9" fill="#833793" stroke="#521f5c" stroke-opacity=".75" stroke-width=".45"/></g>
<g id="bp350"><linearGradient id="gbp350" gradientUnits="userSpaceOnUse" x1="0" y1="-10.7" x2="0" y2="0.8"><stop offset="0" stop-color="#af7eb9"/><stop offset="0.64" stop-color="#af7eb9"/><stop offset="0.76" stop-color="#c39fcb"/><stop offset="0.88" stop-color="#d8c1dd"/><stop offset="1" stop-color="#e5d5e8"/></linearGradient><linearGradient id="gbp350s" gradientUnits="userSpaceOnUse" x1="0" y1="-10.7" x2="0" y2="0.8"><stop offset="0" stop-color="#391540"/><stop offset="0.64" stop-color="#391540"/><stop offset="0.76" stop-color="#62356b"/><stop offset="0.88" stop-color="#8a5395"/><stop offset="1" stop-color="#9e63aa"/></linearGradient><polygon points="-3.5,0.1 -1.1,1.7 3.5,-0.1 3.5,-10.8 -1.1,-9 -3.5,-10.6" fill="url(#gbp350)" stroke="#3f1847" stroke-opacity=".35" stroke-width=".3"/><path d="M-3.5 -7.9H3.5M-3.5 -6.4H3.5M-3.5 -4.9H3.5M-3.5 -3.4H3.5M-3.5 -1.9H3.5M-3.5 -0.4H3.5M-2 1.1H0.5" stroke="url(#gbp350s)" stroke-width=".8" fill="none"/><path d="M-1.1 1.7V-9" stroke="#521f5c" stroke-opacity=".3" stroke-width=".35"/><polygon points="-1.1,-9 3.5,-10.8 1.1,-12.4 -3.5,-10.6" fill="#833793" stroke="#521f5c" stroke-opacity=".75" stroke-width=".45"/></g>
<g id="bp250"><linearGradient id="gbp250" gradientUnits="userSpaceOnUse" x1="0" y1="-7.7" x2="0" y2="0.8"><stop offset="0" stop-color="#af7eb9"/><stop offset="0.5" stop-color="#af7eb9"/><stop offset="0.67" stop-color="#c39fcb"/><stop offset="0.83" stop-color="#d8c1dd"/><stop offset="1" stop-color="#e5d5e8"/></linearGradient><linearGradient id="gbp250s" gradientUnits="userSpaceOnUse" x1="0" y1="-7.7" x2="0" y2="0.8"><stop offset="0" stop-color="#391540"/><stop offset="0.5" stop-color="#391540"/><stop offset="0.67" stop-color="#62356b"/><stop offset="0.83" stop-color="#8a5395"/><stop offset="1" stop-color="#9e63aa"/></linearGradient><polygon points="-3.5,0.1 -1.1,1.7 3.5,-0.1 3.5,-7.7 -1.1,-6 -3.5,-7.6" fill="url(#gbp250)" stroke="#3f1847" stroke-opacity=".35" stroke-width=".3"/><path d="M-3.5 -4.9H3.5M-3.5 -3.4H3.5M-3.5 -1.9H3.5M-3.5 -0.4H3.5M-1.9 1.1H0.3" stroke="url(#gbp250s)" stroke-width=".8" fill="none"/><path d="M-1.1 1.7V-6" stroke="#521f5c" stroke-opacity=".3" stroke-width=".35"/><polygon points="-1.1,-6 3.5,-7.7 1.1,-9.3 -3.5,-7.6" fill="#833793" stroke="#521f5c" stroke-opacity=".75" stroke-width=".45"/></g>
<g id="by325"><linearGradient id="gby325" gradientUnits="userSpaceOnUse" x1="0" y1="-9.9" x2="0" y2="0.8"><stop offset="0" stop-color="#f4cf75"/><stop offset="0.62" stop-color="#f4cf75"/><stop offset="0.75" stop-color="#f7db98"/><stop offset="0.87" stop-color="#fae8bc"/><stop offset="1" stop-color="#fbefd2"/></linearGradient><linearGradient id="gby325s" gradientUnits="userSpaceOnUse" x1="0" y1="-9.9" x2="0" y2="0.8"><stop offset="0" stop-color="#6b500e"/><stop offset="0.62" stop-color="#6b500e"/><stop offset="0.75" stop-color="#a17f2c"/><stop offset="0.87" stop-color="#d6ad49"/><stop offset="1" stop-color="#f2c458"/></linearGradient><polygon points="-3.5,0.1 -1.1,1.7 3.5,-0.1 3.5,-10 -1.1,-8.3 -3.5,-9.9" fill="url(#gby325)" stroke="#765810" stroke-opacity=".35" stroke-width=".3"/><path d="M-3.5 -7.2H3.5M-3.5 -5.7H3.5M-3.5 -4.2H3.5M-3.5 -2.7H3.5M-3.5 -1.2H3.5M-3.1 0.3H2.4" stroke="url(#gby325s)" stroke-width=".8" fill="none"/><path d="M-1.1 1.7V-8.3" stroke="#9a7315" stroke-opacity=".3" stroke-width=".35"/><polygon points="-1.1,-8.3 3.5,-10 1.1,-11.6 -3.5,-9.9" fill="#eeb429" stroke="#9a7315" stroke-opacity=".75" stroke-width=".45"/></g>
<g id="by375"><linearGradient id="gby375" gradientUnits="userSpaceOnUse" x1="0" y1="-11.5" x2="0" y2="0.8"><stop offset="0" stop-color="#f4cf75"/><stop offset="0.67" stop-color="#f4cf75"/><stop offset="0.78" stop-color="#f7db98"/><stop offset="0.89" stop-color="#fae8bc"/><stop offset="1" stop-color="#fbefd2"/></linearGradient><linearGradient id="gby375s" gradientUnits="userSpaceOnUse" x1="0" y1="-11.5" x2="0" y2="0.8"><stop offset="0" stop-color="#6b500e"/><stop offset="0.67" stop-color="#6b500e"/><stop offset="0.78" stop-color="#a17f2c"/><stop offset="0.89" stop-color="#d6ad49"/><stop offset="1" stop-color="#f2c458"/></linearGradient><polygon points="-3.5,0.1 -1.1,1.7 3.5,-0.1 3.5,-11.5 -1.1,-9.8 -3.5,-11.4" fill="url(#gby375)" stroke="#765810" stroke-opacity=".35" stroke-width=".3"/><path d="M-3.5 -8.7H3.5M-3.5 -7.2H3.5M-3.5 -5.7H3.5M-3.5 -4.2H3.5M-3.5 -2.7H3.5M-3.5 -1.2H3.5M-3.1 0.3H2.5" stroke="url(#gby375s)" stroke-width=".8" fill="none"/><path d="M-1.1 1.7V-9.8" stroke="#9a7315" stroke-opacity=".3" stroke-width=".35"/><polygon points="-1.1,-9.8 3.5,-11.5 1.1,-13.1 -3.5,-11.4" fill="#eeb429" stroke="#9a7315" stroke-opacity=".75" stroke-width=".45"/></g>
<g id="by425"><linearGradient id="gby425" gradientUnits="userSpaceOnUse" x1="0" y1="-13" x2="0" y2="0.8"><stop offset="0" stop-color="#f4cf75"/><stop offset="0.71" stop-color="#f4cf75"/><stop offset="0.81" stop-color="#f7db98"/><stop offset="0.9" stop-color="#fae8bc"/><stop offset="1" stop-color="#fbefd2"/></linearGradient><linearGradient id="gby425s" gradientUnits="userSpaceOnUse" x1="0" y1="-13" x2="0" y2="0.8"><stop offset="0" stop-color="#6b500e"/><stop offset="0.71" stop-color="#6b500e"/><stop offset="0.81" stop-color="#a17f2c"/><stop offset="0.9" stop-color="#d6ad49"/><stop offset="1" stop-color="#f2c458"/></linearGradient><polygon points="-3.5,0.1 -1.1,1.7 3.5,-0.1 3.5,-13.1 -1.1,-11.3 -3.5,-12.9" fill="url(#gby425)" stroke="#765810" stroke-opacity=".35" stroke-width=".3"/><path d="M-3.5 -10.2H3.5M-3.5 -8.7H3.5M-3.5 -7.2H3.5M-3.5 -5.7H3.5M-3.5 -4.2H3.5M-3.5 -2.7H3.5M-3.5 -1.2H3.5M-3.2 0.3H2.6" stroke="url(#gby425s)" stroke-width=".8" fill="none"/><path d="M-1.1 1.7V-11.3" stroke="#9a7315" stroke-opacity=".3" stroke-width=".35"/><polygon points="-1.1,-11.3 3.5,-13.1 1.1,-14.7 -3.5,-12.9" fill="#eeb429" stroke="#9a7315" stroke-opacity=".75" stroke-width=".45"/></g>
<g id="by475"><linearGradient id="gby475" gradientUnits="userSpaceOnUse" x1="0" y1="-14.5" x2="0" y2="0.8"><stop offset="0" stop-color="#f4cf75"/><stop offset="0.74" stop-color="#f4cf75"/><stop offset="0.83" stop-color="#f7db98"/><stop offset="0.91" stop-color="#fae8bc"/><stop offset="1" stop-color="#fbefd2"/></linearGradient><linearGradient id="gby475s" gradientUnits="userSpaceOnUse" x1="0" y1="-14.5" x2="0" y2="0.8"><stop offset="0" stop-color="#6b500e"/><stop offset="0.74" stop-color="#6b500e"/><stop offset="0.83" stop-color="#a17f2c"/><stop offset="0.91" stop-color="#d6ad49"/><stop offset="1" stop-color="#f2c458"/></linearGradient><polygon points="-3.5,0.1 -1.1,1.7 3.5,-0.1 3.5,-14.6 -1.1,-12.9 -3.5,-14.5" fill="url(#gby475)" stroke="#765810" stroke-opacity=".35" stroke-width=".3"/><path d="M-3.5 -11.7H3.5M-3.5 -10.2H3.5M-3.5 -8.7H3.5M-3.5 -7.2H3.5M-3.5 -5.7H3.5M-3.5 -4.2H3.5M-3.5 -2.7H3.5M-3.5 -1.2H3.5M-3.2 0.3H2.7" stroke="url(#gby475s)" stroke-width=".8" fill="none"/><path d="M-1.1 1.7V-12.9" stroke="#9a7315" stroke-opacity=".3" stroke-width=".35"/><polygon points="-1.1,-12.9 3.5,-14.6 1.1,-16.2 -3.5,-14.5" fill="#eeb429" stroke="#9a7315" stroke-opacity=".75" stroke-width=".45"/></g>
<g id="by400"><linearGradient id="gby400" gradientUnits="userSpaceOnUse" x1="0" y1="-12.2" x2="0" y2="0.8"><stop offset="0" stop-color="#f4cf75"/><stop offset="0.69" stop-color="#f4cf75"/><stop offset="0.79" stop-color="#f7db98"/><stop offset="0.9" stop-color="#fae8bc"/><stop offset="1" stop-color="#fbefd2"/></linearGradient><linearGradient id="gby400s" gradientUnits="userSpaceOnUse" x1="0" y1="-12.2" x2="0" y2="0.8"><stop offset="0" stop-color="#6b500e"/><stop offset="0.69" stop-color="#6b500e"/><stop offset="0.79" stop-color="#a17f2c"/><stop offset="0.9" stop-color="#d6ad49"/><stop offset="1" stop-color="#f2c458"/></linearGradient><polygon points="-3.5,0.1 -1.1,1.7 3.5,-0.1 3.5,-12.3 -1.1,-10.6 -3.5,-12.2" fill="url(#gby400)" stroke="#765810" stroke-opacity=".35" stroke-width=".3"/><path d="M-3.5 -9.5H3.5M-3.5 -8H3.5M-3.5 -6.5H3.5M-3.5 -5H3.5M-3.5 -3.5H3.5M-3.5 -2H3.5M-3.5 -0.5H3.5M-2 1H0.6" stroke="url(#gby400s)" stroke-width=".8" fill="none"/><path d="M-1.1 1.7V-10.6" stroke="#9a7315" stroke-opacity=".3" stroke-width=".35"/><polygon points="-1.1,-10.6 3.5,-12.3 1.1,-13.9 -3.5,-12.2" fill="#eeb429" stroke="#9a7315" stroke-opacity=".75" stroke-width=".45"/></g>
<g id="by450"><linearGradient id="gby450" gradientUnits="userSpaceOnUse" x1="0" y1="-13.8" x2="0" y2="0.8"><stop offset="0" stop-color="#f4cf75"/><stop offset="0.72" stop-color="#f4cf75"/><stop offset="0.82" stop-color="#f7db98"/><stop offset="0.91" stop-color="#fae8bc"/><stop offset="1" stop-color="#fbefd2"/></linearGradient><linearGradient id="gby450s" gradientUnits="userSpaceOnUse" x1="0" y1="-13.8" x2="0" y2="0.8"><stop offset="0" stop-color="#6b500e"/><stop offset="0.72" stop-color="#6b500e"/><stop offset="0.82" stop-color="#a17f2c"/><stop offset="0.91" stop-color="#d6ad49"/><stop offset="1" stop-color="#f2c458"/></linearGradient><polygon points="-3.5,0.1 -1.1,1.7 3.5,-0.1 3.5,-13.8 -1.1,-12.1 -3.5,-13.7" fill="url(#gby450)" stroke="#765810" stroke-opacity=".35" stroke-width=".3"/><path d="M-3.5 -11H3.5M-3.5 -9.5H3.5M-3.5 -8H3.5M-3.5 -6.5H3.5M-3.5 -5H3.5M-3.5 -3.5H3.5M-3.5 -2H3.5M-3.5 -0.5H3.5M-2 1H0.7" stroke="url(#gby450s)" stroke-width=".8" fill="none"/><path d="M-1.1 1.7V-12.1" stroke="#9a7315" stroke-opacity=".3" stroke-width=".35"/><polygon points="-1.1,-12.1 3.5,-13.8 1.1,-15.4 -3.5,-13.7" fill="#eeb429" stroke="#9a7315" stroke-opacity=".75" stroke-width=".45"/></g>
<g id="by575"><linearGradient id="gby575" gradientUnits="userSpaceOnUse" x1="0" y1="-17.6" x2="0" y2="0.8"><stop offset="0" stop-color="#f4cf75"/><stop offset="0.78" stop-color="#f4cf75"/><stop offset="0.86" stop-color="#f7db98"/><stop offset="0.93" stop-color="#fae8bc"/><stop offset="1" stop-color="#fbefd2"/></linearGradient><linearGradient id="gby575s" gradientUnits="userSpaceOnUse" x1="0" y1="-17.6" x2="0" y2="0.8"><stop offset="0" stop-color="#6b500e"/><stop offset="0.78" stop-color="#6b500e"/><stop offset="0.86" stop-color="#a17f2c"/><stop offset="0.93" stop-color="#d6ad49"/><stop offset="1" stop-color="#f2c458"/></linearGradient><polygon points="-3.5,0.1 -1.1,1.7 3.5,-0.1 3.5,-17.7 -1.1,-15.9 -3.5,-17.5" fill="url(#gby575)" stroke="#765810" stroke-opacity=".35" stroke-width=".3"/><path d="M-3.5 -14.8H3.5M-3.5 -13.3H3.5M-3.5 -11.8H3.5M-3.5 -10.3H3.5M-3.5 -8.8H3.5M-3.5 -7.3H3.5M-3.5 -5.8H3.5M-3.5 -4.3H3.5M-3.5 -2.8H3.5M-3.5 -1.3H3.5M-3.3 0.2H2.8" stroke="url(#gby575s)" stroke-width=".8" fill="none"/><path d="M-1.1 1.7V-15.9" stroke="#9a7315" stroke-opacity=".3" stroke-width=".35"/><polygon points="-1.1,-15.9 3.5,-17.7 1.1,-19.3 -3.5,-17.5" fill="#eeb429" stroke="#9a7315" stroke-opacity=".75" stroke-width=".45"/></g>
<g id="by275"><linearGradient id="gby275" gradientUnits="userSpaceOnUse" x1="0" y1="-8.4" x2="0" y2="0.8"><stop offset="0" stop-color="#f4cf75"/><stop offset="0.55" stop-color="#f4cf75"/><stop offset="0.7" stop-color="#f7db98"/><stop offset="0.85" stop-color="#fae8bc"/><stop offset="1" stop-color="#fbefd2"/></linearGradient><linearGradient id="gby275s" gradientUnits="userSpaceOnUse" x1="0" y1="-8.4" x2="0" y2="0.8"><stop offset="0" stop-color="#6b500e"/><stop offset="0.55" stop-color="#6b500e"/><stop offset="0.7" stop-color="#a17f2c"/><stop offset="0.85" stop-color="#d6ad49"/><stop offset="1" stop-color="#f2c458"/></linearGradient><polygon points="-3.5,0.1 -1.1,1.7 3.5,-0.1 3.5,-8.5 -1.1,-6.8 -3.5,-8.4" fill="url(#gby275)" stroke="#765810" stroke-opacity=".35" stroke-width=".3"/><path d="M-3.5 -5.6H3.5M-3.5 -4.1H3.5M-3.5 -2.6H3.5M-3.5 -1.1H3.5M-3 0.4H2.4" stroke="url(#gby275s)" stroke-width=".8" fill="none"/><path d="M-1.1 1.7V-6.8" stroke="#9a7315" stroke-opacity=".3" stroke-width=".35"/><polygon points="-1.1,-6.8 3.5,-8.5 1.1,-10.1 -3.5,-8.4" fill="#eeb429" stroke="#9a7315" stroke-opacity=".75" stroke-width=".45"/></g>
<g id="bo325"><linearGradient id="gbo325" gradientUnits="userSpaceOnUse" x1="0" y1="-9.9" x2="0" y2="0.8"><stop offset="0" stop-color="#e79470"/><stop offset="0.62" stop-color="#e79470"/><stop offset="0.75" stop-color="#edaf94"/><stop offset="0.87" stop-color="#f4cbba"/><stop offset="1" stop-color="#f7ddd1"/></linearGradient><linearGradient id="gbo325s" gradientUnits="userSpaceOnUse" x1="0" y1="-9.9" x2="0" y2="0.8"><stop offset="0" stop-color="#62250b"/><stop offset="0.62" stop-color="#62250b"/><stop offset="0.75" stop-color="#964928"/><stop offset="0.87" stop-color="#c86c44"/><stop offset="1" stop-color="#e27e52"/></linearGradient><polygon points="-3.5,0.1 -1.1,1.7 3.5,-0.1 3.5,-10 -1.1,-8.3 -3.5,-9.9" fill="url(#gbo325)" stroke="#6c2a0c" stroke-opacity=".35" stroke-width=".3"/><path d="M-3.5 -7.2H3.5M-3.5 -5.7H3.5M-3.5 -4.2H3.5M-3.5 -2.7H3.5M-3.5 -1.2H3.5M-3.1 0.3H2.4" stroke="url(#gbo325s)" stroke-width=".8" fill="none"/><path d="M-1.1 1.7V-8.3" stroke="#8d3610" stroke-opacity=".3" stroke-width=".35"/><polygon points="-1.1,-8.3 3.5,-10 1.1,-11.6 -3.5,-9.9" fill="#db5a22" stroke="#8d3610" stroke-opacity=".75" stroke-width=".45"/></g>
<g id="bo350"><linearGradient id="gbo350" gradientUnits="userSpaceOnUse" x1="0" y1="-10.7" x2="0" y2="0.8"><stop offset="0" stop-color="#e79470"/><stop offset="0.64" stop-color="#e79470"/><stop offset="0.76" stop-color="#edaf94"/><stop offset="0.88" stop-color="#f4cbba"/><stop offset="1" stop-color="#f7ddd1"/></linearGradient><linearGradient id="gbo350s" gradientUnits="userSpaceOnUse" x1="0" y1="-10.7" x2="0" y2="0.8"><stop offset="0" stop-color="#62250b"/><stop offset="0.64" stop-color="#62250b"/><stop offset="0.76" stop-color="#964928"/><stop offset="0.88" stop-color="#c86c44"/><stop offset="1" stop-color="#e27e52"/></linearGradient><polygon points="-3.5,0.1 -1.1,1.7 3.5,-0.1 3.5,-10.8 -1.1,-9 -3.5,-10.6" fill="url(#gbo350)" stroke="#6c2a0c" stroke-opacity=".35" stroke-width=".3"/><path d="M-3.5 -7.9H3.5M-3.5 -6.4H3.5M-3.5 -4.9H3.5M-3.5 -3.4H3.5M-3.5 -1.9H3.5M-3.5 -0.4H3.5M-2 1.1H0.5" stroke="url(#gbo350s)" stroke-width=".8" fill="none"/><path d="M-1.1 1.7V-9" stroke="#8d3610" stroke-opacity=".3" stroke-width=".35"/><polygon points="-1.1,-9 3.5,-10.8 1.1,-12.4 -3.5,-10.6" fill="#db5a22" stroke="#8d3610" stroke-opacity=".75" stroke-width=".45"/></g>
<g id="bo375"><linearGradient id="gbo375" gradientUnits="userSpaceOnUse" x1="0" y1="-11.5" x2="0" y2="0.8"><stop offset="0" stop-color="#e79470"/><stop offset="0.67" stop-color="#e79470"/><stop offset="0.78" stop-color="#edaf94"/><stop offset="0.89" stop-color="#f4cbba"/><stop offset="1" stop-color="#f7ddd1"/></linearGradient><linearGradient id="gbo375s" gradientUnits="userSpaceOnUse" x1="0" y1="-11.5" x2="0" y2="0.8"><stop offset="0" stop-color="#62250b"/><stop offset="0.67" stop-color="#62250b"/><stop offset="0.78" stop-color="#964928"/><stop offset="0.89" stop-color="#c86c44"/><stop offset="1" stop-color="#e27e52"/></linearGradient><polygon points="-3.5,0.1 -1.1,1.7 3.5,-0.1 3.5,-11.5 -1.1,-9.8 -3.5,-11.4" fill="url(#gbo375)" stroke="#6c2a0c" stroke-opacity=".35" stroke-width=".3"/><path d="M-3.5 -8.7H3.5M-3.5 -7.2H3.5M-3.5 -5.7H3.5M-3.5 -4.2H3.5M-3.5 -2.7H3.5M-3.5 -1.2H3.5M-3.1 0.3H2.5" stroke="url(#gbo375s)" stroke-width=".8" fill="none"/><path d="M-1.1 1.7V-9.8" stroke="#8d3610" stroke-opacity=".3" stroke-width=".35"/><polygon points="-1.1,-9.8 3.5,-11.5 1.1,-13.1 -3.5,-11.4" fill="#db5a22" stroke="#8d3610" stroke-opacity=".75" stroke-width=".45"/></g>
<g id="bo400"><linearGradient id="gbo400" gradientUnits="userSpaceOnUse" x1="0" y1="-12.2" x2="0" y2="0.8"><stop offset="0" stop-color="#e79470"/><stop offset="0.69" stop-color="#e79470"/><stop offset="0.79" stop-color="#edaf94"/><stop offset="0.9" stop-color="#f4cbba"/><stop offset="1" stop-color="#f7ddd1"/></linearGradient><linearGradient id="gbo400s" gradientUnits="userSpaceOnUse" x1="0" y1="-12.2" x2="0" y2="0.8"><stop offset="0" stop-color="#62250b"/><stop offset="0.69" stop-color="#62250b"/><stop offset="0.79" stop-color="#964928"/><stop offset="0.9" stop-color="#c86c44"/><stop offset="1" stop-color="#e27e52"/></linearGradient><polygon points="-3.5,0.1 -1.1,1.7 3.5,-0.1 3.5,-12.3 -1.1,-10.6 -3.5,-12.2" fill="url(#gbo400)" stroke="#6c2a0c" stroke-opacity=".35" stroke-width=".3"/><path d="M-3.5 -9.5H3.5M-3.5 -8H3.5M-3.5 -6.5H3.5M-3.5 -5H3.5M-3.5 -3.5H3.5M-3.5 -2H3.5M-3.5 -0.5H3.5M-2 1H0.6" stroke="url(#gbo400s)" stroke-width=".8" fill="none"/><path d="M-1.1 1.7V-10.6" stroke="#8d3610" stroke-opacity=".3" stroke-width=".35"/><polygon points="-1.1,-10.6 3.5,-12.3 1.1,-13.9 -3.5,-12.2" fill="#db5a22" stroke="#8d3610" stroke-opacity=".75" stroke-width=".45"/></g>
<g id="bo425"><linearGradient id="gbo425" gradientUnits="userSpaceOnUse" x1="0" y1="-13" x2="0" y2="0.8"><stop offset="0" stop-color="#e79470"/><stop offset="0.71" stop-color="#e79470"/><stop offset="0.81" stop-color="#edaf94"/><stop offset="0.9" stop-color="#f4cbba"/><stop offset="1" stop-color="#f7ddd1"/></linearGradient><linearGradient id="gbo425s" gradientUnits="userSpaceOnUse" x1="0" y1="-13" x2="0" y2="0.8"><stop offset="0" stop-color="#62250b"/><stop offset="0.71" stop-color="#62250b"/><stop offset="0.81" stop-color="#964928"/><stop offset="0.9" stop-color="#c86c44"/><stop offset="1" stop-color="#e27e52"/></linearGradient><polygon points="-3.5,0.1 -1.1,1.7 3.5,-0.1 3.5,-13.1 -1.1,-11.3 -3.5,-12.9" fill="url(#gbo425)" stroke="#6c2a0c" stroke-opacity=".35" stroke-width=".3"/><path d="M-3.5 -10.2H3.5M-3.5 -8.7H3.5M-3.5 -7.2H3.5M-3.5 -5.7H3.5M-3.5 -4.2H3.5M-3.5 -2.7H3.5M-3.5 -1.2H3.5M-3.2 0.3H2.6" stroke="url(#gbo425s)" stroke-width=".8" fill="none"/><path d="M-1.1 1.7V-11.3" stroke="#8d3610" stroke-opacity=".3" stroke-width=".35"/><polygon points="-1.1,-11.3 3.5,-13.1 1.1,-14.7 -3.5,-12.9" fill="#db5a22" stroke="#8d3610" stroke-opacity=".75" stroke-width=".45"/></g>
<g id="bo475"><linearGradient id="gbo475" gradientUnits="userSpaceOnUse" x1="0" y1="-14.5" x2="0" y2="0.8"><stop offset="0" stop-color="#e79470"/><stop offset="0.74" stop-color="#e79470"/><stop offset="0.83" stop-color="#edaf94"/><stop offset="0.91" stop-color="#f4cbba"/><stop offset="1" stop-color="#f7ddd1"/></linearGradient><linearGradient id="gbo475s" gradientUnits="userSpaceOnUse" x1="0" y1="-14.5" x2="0" y2="0.8"><stop offset="0" stop-color="#62250b"/><stop offset="0.74" stop-color="#62250b"/><stop offset="0.83" stop-color="#964928"/><stop offset="0.91" stop-color="#c86c44"/><stop offset="1" stop-color="#e27e52"/></linearGradient><polygon points="-3.5,0.1 -1.1,1.7 3.5,-0.1 3.5,-14.6 -1.1,-12.9 -3.5,-14.5" fill="url(#gbo475)" stroke="#6c2a0c" stroke-opacity=".35" stroke-width=".3"/><path d="M-3.5 -11.7H3.5M-3.5 -10.2H3.5M-3.5 -8.7H3.5M-3.5 -7.2H3.5M-3.5 -5.7H3.5M-3.5 -4.2H3.5M-3.5 -2.7H3.5M-3.5 -1.2H3.5M-3.2 0.3H2.7" stroke="url(#gbo475s)" stroke-width=".8" fill="none"/><path d="M-1.1 1.7V-12.9" stroke="#8d3610" stroke-opacity=".3" stroke-width=".35"/><polygon points="-1.1,-12.9 3.5,-14.6 1.1,-16.2 -3.5,-14.5" fill="#db5a22" stroke="#8d3610" stroke-opacity=".75" stroke-width=".45"/></g>
<g id="bo275"><linearGradient id="gbo275" gradientUnits="userSpaceOnUse" x1="0" y1="-8.4" x2="0" y2="0.8"><stop offset="0" stop-color="#e79470"/><stop offset="0.55" stop-color="#e79470"/><stop offset="0.7" stop-color="#edaf94"/><stop offset="0.85" stop-color="#f4cbba"/><stop offset="1" stop-color="#f7ddd1"/></linearGradient><linearGradient id="gbo275s" gradientUnits="userSpaceOnUse" x1="0" y1="-8.4" x2="0" y2="0.8"><stop offset="0" stop-color="#62250b"/><stop offset="0.55" stop-color="#62250b"/><stop offset="0.7" stop-color="#964928"/><stop offset="0.85" stop-color="#c86c44"/><stop offset="1" stop-color="#e27e52"/></linearGradient><polygon points="-3.5,0.1 -1.1,1.7 3.5,-0.1 3.5,-8.5 -1.1,-6.8 -3.5,-8.4" fill="url(#gbo275)" stroke="#6c2a0c" stroke-opacity=".35" stroke-width=".3"/><path d="M-3.5 -5.6H3.5M-3.5 -4.1H3.5M-3.5 -2.6H3.5M-3.5 -1.1H3.5M-3 0.4H2.4" stroke="url(#gbo275s)" stroke-width=".8" fill="none"/><path d="M-1.1 1.7V-6.8" stroke="#8d3610" stroke-opacity=".3" stroke-width=".35"/><polygon points="-1.1,-6.8 3.5,-8.5 1.1,-10.1 -3.5,-8.4" fill="#db5a22" stroke="#8d3610" stroke-opacity=".75" stroke-width=".45"/></g>
<g id="bb300"><linearGradient id="gbb300" gradientUnits="userSpaceOnUse" x1="0" y1="-9.2" x2="0" y2="0.8"><stop offset="0" stop-color="#61a8d6"/><stop offset="0.58" stop-color="#61a8d6"/><stop offset="0.72" stop-color="#89bee0"/><stop offset="0.86" stop-color="#b3d5eb"/><stop offset="1" stop-color="#cce3f2"/></linearGradient><linearGradient id="gbb300s" gradientUnits="userSpaceOnUse" x1="0" y1="-9.2" x2="0" y2="0.8"><stop offset="0" stop-color="#003355"/><stop offset="0.58" stop-color="#003355"/><stop offset="0.72" stop-color="#1a5b86"/><stop offset="0.86" stop-color="#3381b5"/><stop offset="1" stop-color="#4095ce"/></linearGradient><polygon points="-3.5,0.1 -1.1,1.7 3.5,-0.1 3.5,-9.2 -1.1,-7.5 -3.5,-9.1" fill="url(#gbb300)" stroke="#00395e" stroke-opacity=".35" stroke-width=".3"/><path d="M-3.5 -6.4H3.5M-3.5 -4.9H3.5M-3.5 -3.4H3.5M-3.5 -1.9H3.5M-3.5 -0.4H3.5M-1.9 1.1H0.4" stroke="url(#gbb300s)" stroke-width=".8" fill="none"/><path d="M-1.1 1.7V-7.5" stroke="#004a7b" stroke-opacity=".3" stroke-width=".35"/><polygon points="-1.1,-7.5 3.5,-9.2 1.1,-10.8 -3.5,-9.1" fill="#0a78c0" stroke="#004a7b" stroke-opacity=".75" stroke-width=".45"/></g>
<g id="bb325"><linearGradient id="gbb325" gradientUnits="userSpaceOnUse" x1="0" y1="-9.9" x2="0" y2="0.8"><stop offset="0" stop-color="#61a8d6"/><stop offset="0.62" stop-color="#61a8d6"/><stop offset="0.75" stop-color="#89bee0"/><stop offset="0.87" stop-color="#b3d5eb"/><stop offset="1" stop-color="#cce3f2"/></linearGradient><linearGradient id="gbb325s" gradientUnits="userSpaceOnUse" x1="0" y1="-9.9" x2="0" y2="0.8"><stop offset="0" stop-color="#003355"/><stop offset="0.62" stop-color="#003355"/><stop offset="0.75" stop-color="#1a5b86"/><stop offset="0.87" stop-color="#3381b5"/><stop offset="1" stop-color="#4095ce"/></linearGradient><polygon points="-3.5,0.1 -1.1,1.7 3.5,-0.1 3.5,-10 -1.1,-8.3 -3.5,-9.9" fill="url(#gbb325)" stroke="#00395e" stroke-opacity=".35" stroke-width=".3"/><path d="M-3.5 -7.2H3.5M-3.5 -5.7H3.5M-3.5 -4.2H3.5M-3.5 -2.7H3.5M-3.5 -1.2H3.5M-3.1 0.3H2.4" stroke="url(#gbb325s)" stroke-width=".8" fill="none"/><path d="M-1.1 1.7V-8.3" stroke="#004a7b" stroke-opacity=".3" stroke-width=".35"/><polygon points="-1.1,-8.3 3.5,-10 1.1,-11.6 -3.5,-9.9" fill="#0a78c0" stroke="#004a7b" stroke-opacity=".75" stroke-width=".45"/></g>
<g id="bb350"><linearGradient id="gbb350" gradientUnits="userSpaceOnUse" x1="0" y1="-10.7" x2="0" y2="0.8"><stop offset="0" stop-color="#61a8d6"/><stop offset="0.64" stop-color="#61a8d6"/><stop offset="0.76" stop-color="#89bee0"/><stop offset="0.88" stop-color="#b3d5eb"/><stop offset="1" stop-color="#cce3f2"/></linearGradient><linearGradient id="gbb350s" gradientUnits="userSpaceOnUse" x1="0" y1="-10.7" x2="0" y2="0.8"><stop offset="0" stop-color="#003355"/><stop offset="0.64" stop-color="#003355"/><stop offset="0.76" stop-color="#1a5b86"/><stop offset="0.88" stop-color="#3381b5"/><stop offset="1" stop-color="#4095ce"/></linearGradient><polygon points="-3.5,0.1 -1.1,1.7 3.5,-0.1 3.5,-10.8 -1.1,-9 -3.5,-10.6" fill="url(#gbb350)" stroke="#00395e" stroke-opacity=".35" stroke-width=".3"/><path d="M-3.5 -7.9H3.5M-3.5 -6.4H3.5M-3.5 -4.9H3.5M-3.5 -3.4H3.5M-3.5 -1.9H3.5M-3.5 -0.4H3.5M-2 1.1H0.5" stroke="url(#gbb350s)" stroke-width=".8" fill="none"/><path d="M-1.1 1.7V-9" stroke="#004a7b" stroke-opacity=".3" stroke-width=".35"/><polygon points="-1.1,-9 3.5,-10.8 1.1,-12.4 -3.5,-10.6" fill="#0a78c0" stroke="#004a7b" stroke-opacity=".75" stroke-width=".45"/></g>
<g id="bb375"><linearGradient id="gbb375" gradientUnits="userSpaceOnUse" x1="0" y1="-11.5" x2="0" y2="0.8"><stop offset="0" stop-color="#61a8d6"/><stop offset="0.67" stop-color="#61a8d6"/><stop offset="0.78" stop-color="#89bee0"/><stop offset="0.89" stop-color="#b3d5eb"/><stop offset="1" stop-color="#cce3f2"/></linearGradient><linearGradient id="gbb375s" gradientUnits="userSpaceOnUse" x1="0" y1="-11.5" x2="0" y2="0.8"><stop offset="0" stop-color="#003355"/><stop offset="0.67" stop-color="#003355"/><stop offset="0.78" stop-color="#1a5b86"/><stop offset="0.89" stop-color="#3381b5"/><stop offset="1" stop-color="#4095ce"/></linearGradient><polygon points="-3.5,0.1 -1.1,1.7 3.5,-0.1 3.5,-11.5 -1.1,-9.8 -3.5,-11.4" fill="url(#gbb375)" stroke="#00395e" stroke-opacity=".35" stroke-width=".3"/><path d="M-3.5 -8.7H3.5M-3.5 -7.2H3.5M-3.5 -5.7H3.5M-3.5 -4.2H3.5M-3.5 -2.7H3.5M-3.5 -1.2H3.5M-3.1 0.3H2.5" stroke="url(#gbb375s)" stroke-width=".8" fill="none"/><path d="M-1.1 1.7V-9.8" stroke="#004a7b" stroke-opacity=".3" stroke-width=".35"/><polygon points="-1.1,-9.8 3.5,-11.5 1.1,-13.1 -3.5,-11.4" fill="#0a78c0" stroke="#004a7b" stroke-opacity=".75" stroke-width=".45"/></g>
<g id="bb400"><linearGradient id="gbb400" gradientUnits="userSpaceOnUse" x1="0" y1="-12.2" x2="0" y2="0.8"><stop offset="0" stop-color="#61a8d6"/><stop offset="0.69" stop-color="#61a8d6"/><stop offset="0.79" stop-color="#89bee0"/><stop offset="0.9" stop-color="#b3d5eb"/><stop offset="1" stop-color="#cce3f2"/></linearGradient><linearGradient id="gbb400s" gradientUnits="userSpaceOnUse" x1="0" y1="-12.2" x2="0" y2="0.8"><stop offset="0" stop-color="#003355"/><stop offset="0.69" stop-color="#003355"/><stop offset="0.79" stop-color="#1a5b86"/><stop offset="0.9" stop-color="#3381b5"/><stop offset="1" stop-color="#4095ce"/></linearGradient><polygon points="-3.5,0.1 -1.1,1.7 3.5,-0.1 3.5,-12.3 -1.1,-10.6 -3.5,-12.2" fill="url(#gbb400)" stroke="#00395e" stroke-opacity=".35" stroke-width=".3"/><path d="M-3.5 -9.5H3.5M-3.5 -8H3.5M-3.5 -6.5H3.5M-3.5 -5H3.5M-3.5 -3.5H3.5M-3.5 -2H3.5M-3.5 -0.5H3.5M-2 1H0.6" stroke="url(#gbb400s)" stroke-width=".8" fill="none"/><path d="M-1.1 1.7V-10.6" stroke="#004a7b" stroke-opacity=".3" stroke-width=".35"/><polygon points="-1.1,-10.6 3.5,-12.3 1.1,-13.9 -3.5,-12.2" fill="#0a78c0" stroke="#004a7b" stroke-opacity=".75" stroke-width=".45"/></g>
<g id="bb275"><linearGradient id="gbb275" gradientUnits="userSpaceOnUse" x1="0" y1="-8.4" x2="0" y2="0.8"><stop offset="0" stop-color="#61a8d6"/><stop offset="0.55" stop-color="#61a8d6"/><stop offset="0.7" stop-color="#89bee0"/><stop offset="0.85" stop-color="#b3d5eb"/><stop offset="1" stop-color="#cce3f2"/></linearGradient><linearGradient id="gbb275s" gradientUnits="userSpaceOnUse" x1="0" y1="-8.4" x2="0" y2="0.8"><stop offset="0" stop-color="#003355"/><stop offset="0.55" stop-color="#003355"/><stop offset="0.7" stop-color="#1a5b86"/><stop offset="0.85" stop-color="#3381b5"/><stop offset="1" stop-color="#4095ce"/></linearGradient><polygon points="-3.5,0.1 -1.1,1.7 3.5,-0.1 3.5,-8.5 -1.1,-6.8 -3.5,-8.4" fill="url(#gbb275)" stroke="#00395e" stroke-opacity=".35" stroke-width=".3"/><path d="M-3.5 -5.6H3.5M-3.5 -4.1H3.5M-3.5 -2.6H3.5M-3.5 -1.1H3.5M-3 0.4H2.4" stroke="url(#gbb275s)" stroke-width=".8" fill="none"/><path d="M-1.1 1.7V-6.8" stroke="#004a7b" stroke-opacity=".3" stroke-width=".35"/><polygon points="-1.1,-6.8 3.5,-8.5 1.1,-10.1 -3.5,-8.4" fill="#0a78c0" stroke="#004a7b" stroke-opacity=".75" stroke-width=".45"/></g>
<g id="by350"><linearGradient id="gby350" gradientUnits="userSpaceOnUse" x1="0" y1="-10.7" x2="0" y2="0.8"><stop offset="0" stop-color="#f4cf75"/><stop offset="0.64" stop-color="#f4cf75"/><stop offset="0.76" stop-color="#f7db98"/><stop offset="0.88" stop-color="#fae8bc"/><stop offset="1" stop-color="#fbefd2"/></linearGradient><linearGradient id="gby350s" gradientUnits="userSpaceOnUse" x1="0" y1="-10.7" x2="0" y2="0.8"><stop offset="0" stop-color="#6b500e"/><stop offset="0.64" stop-color="#6b500e"/><stop offset="0.76" stop-color="#a17f2c"/><stop offset="0.88" stop-color="#d6ad49"/><stop offset="1" stop-color="#f2c458"/></linearGradient><polygon points="-3.5,0.1 -1.1,1.7 3.5,-0.1 3.5,-10.8 -1.1,-9 -3.5,-10.6" fill="url(#gby350)" stroke="#765810" stroke-opacity=".35" stroke-width=".3"/><path d="M-3.5 -7.9H3.5M-3.5 -6.4H3.5M-3.5 -4.9H3.5M-3.5 -3.4H3.5M-3.5 -1.9H3.5M-3.5 -0.4H3.5M-2 1.1H0.5" stroke="url(#gby350s)" stroke-width=".8" fill="none"/><path d="M-1.1 1.7V-9" stroke="#9a7315" stroke-opacity=".3" stroke-width=".35"/><polygon points="-1.1,-9 3.5,-10.8 1.1,-12.4 -3.5,-10.6" fill="#eeb429" stroke="#9a7315" stroke-opacity=".75" stroke-width=".45"/></g>
<g id="by300"><linearGradient id="gby300" gradientUnits="userSpaceOnUse" x1="0" y1="-9.2" x2="0" y2="0.8"><stop offset="0" stop-color="#f4cf75"/><stop offset="0.58" stop-color="#f4cf75"/><stop offset="0.72" stop-color="#f7db98"/><stop offset="0.86" stop-color="#fae8bc"/><stop offset="1" stop-color="#fbefd2"/></linearGradient><linearGradient id="gby300s" gradientUnits="userSpaceOnUse" x1="0" y1="-9.2" x2="0" y2="0.8"><stop offset="0" stop-color="#6b500e"/><stop offset="0.58" stop-color="#6b500e"/><stop offset="0.72" stop-color="#a17f2c"/><stop offset="0.86" stop-color="#d6ad49"/><stop offset="1" stop-color="#f2c458"/></linearGradient><polygon points="-3.5,0.1 -1.1,1.7 3.5,-0.1 3.5,-9.2 -1.1,-7.5 -3.5,-9.1" fill="url(#gby300)" stroke="#765810" stroke-opacity=".35" stroke-width=".3"/><path d="M-3.5 -6.4H3.5M-3.5 -4.9H3.5M-3.5 -3.4H3.5M-3.5 -1.9H3.5M-3.5 -0.4H3.5M-1.9 1.1H0.4" stroke="url(#gby300s)" stroke-width=".8" fill="none"/><path d="M-1.1 1.7V-7.5" stroke="#9a7315" stroke-opacity=".3" stroke-width=".35"/><polygon points="-1.1,-7.5 3.5,-9.2 1.1,-10.8 -3.5,-9.1" fill="#eeb429" stroke="#9a7315" stroke-opacity=".75" stroke-width=".45"/></g>
<g id="bo300"><linearGradient id="gbo300" gradientUnits="userSpaceOnUse" x1="0" y1="-9.2" x2="0" y2="0.8"><stop offset="0" stop-color="#e79470"/><stop offset="0.58" stop-color="#e79470"/><stop offset="0.72" stop-color="#edaf94"/><stop offset="0.86" stop-color="#f4cbba"/><stop offset="1" stop-color="#f7ddd1"/></linearGradient><linearGradient id="gbo300s" gradientUnits="userSpaceOnUse" x1="0" y1="-9.2" x2="0" y2="0.8"><stop offset="0" stop-color="#62250b"/><stop offset="0.58" stop-color="#62250b"/><stop offset="0.72" stop-color="#964928"/><stop offset="0.86" stop-color="#c86c44"/><stop offset="1" stop-color="#e27e52"/></linearGradient><polygon points="-3.5,0.1 -1.1,1.7 3.5,-0.1 3.5,-9.2 -1.1,-7.5 -3.5,-9.1" fill="url(#gbo300)" stroke="#6c2a0c" stroke-opacity=".35" stroke-width=".3"/><path d="M-3.5 -6.4H3.5M-3.5 -4.9H3.5M-3.5 -3.4H3.5M-3.5 -1.9H3.5M-3.5 -0.4H3.5M-1.9 1.1H0.4" stroke="url(#gbo300s)" stroke-width=".8" fill="none"/><path d="M-1.1 1.7V-7.5" stroke="#8d3610" stroke-opacity=".3" stroke-width=".35"/><polygon points="-1.1,-7.5 3.5,-9.2 1.1,-10.8 -3.5,-9.1" fill="#db5a22" stroke="#8d3610" stroke-opacity=".75" stroke-width=".45"/></g>
<g id="bo450"><linearGradient id="gbo450" gradientUnits="userSpaceOnUse" x1="0" y1="-13.8" x2="0" y2="0.8"><stop offset="0" stop-color="#e79470"/><stop offset="0.72" stop-color="#e79470"/><stop offset="0.82" stop-color="#edaf94"/><stop offset="0.91" stop-color="#f4cbba"/><stop offset="1" stop-color="#f7ddd1"/></linearGradient><linearGradient id="gbo450s" gradientUnits="userSpaceOnUse" x1="0" y1="-13.8" x2="0" y2="0.8"><stop offset="0" stop-color="#62250b"/><stop offset="0.72" stop-color="#62250b"/><stop offset="0.82" stop-color="#964928"/><stop offset="0.91" stop-color="#c86c44"/><stop offset="1" stop-color="#e27e52"/></linearGradient><polygon points="-3.5,0.1 -1.1,1.7 3.5,-0.1 3.5,-13.8 -1.1,-12.1 -3.5,-13.7" fill="url(#gbo450)" stroke="#6c2a0c" stroke-opacity=".35" stroke-width=".3"/><path d="M-3.5 -11H3.5M-3.5 -9.5H3.5M-3.5 -8H3.5M-3.5 -6.5H3.5M-3.5 -5H3.5M-3.5 -3.5H3.5M-3.5 -2H3.5M-3.5 -0.5H3.5M-2 1H0.7" stroke="url(#gbo450s)" stroke-width=".8" fill="none"/><path d="M-1.1 1.7V-12.1" stroke="#8d3610" stroke-opacity=".3" stroke-width=".35"/><polygon points="-1.1,-12.1 3.5,-13.8 1.1,-15.4 -3.5,-13.7" fill="#db5a22" stroke="#8d3610" stroke-opacity=".75" stroke-width=".45"/></g>
<g id="bp275"><linearGradient id="gbp275" gradientUnits="userSpaceOnUse" x1="0" y1="-8.4" x2="0" y2="0.8"><stop offset="0" stop-color="#af7eb9"/><stop offset="0.55" stop-color="#af7eb9"/><stop offset="0.7" stop-color="#c39fcb"/><stop offset="0.85" stop-color="#d8c1dd"/><stop offset="1" stop-color="#e5d5e8"/></linearGradient><linearGradient id="gbp275s" gradientUnits="userSpaceOnUse" x1="0" y1="-8.4" x2="0" y2="0.8"><stop offset="0" stop-color="#391540"/><stop offset="0.55" stop-color="#391540"/><stop offset="0.7" stop-color="#62356b"/><stop offset="0.85" stop-color="#8a5395"/><stop offset="1" stop-color="#9e63aa"/></linearGradient><polygon points="-3.5,0.1 -1.1,1.7 3.5,-0.1 3.5,-8.5 -1.1,-6.8 -3.5,-8.4" fill="url(#gbp275)" stroke="#3f1847" stroke-opacity=".35" stroke-width=".3"/><path d="M-3.5 -5.6H3.5M-3.5 -4.1H3.5M-3.5 -2.6H3.5M-3.5 -1.1H3.5M-3 0.4H2.4" stroke="url(#gbp275s)" stroke-width=".8" fill="none"/><path d="M-1.1 1.7V-6.8" stroke="#521f5c" stroke-opacity=".3" stroke-width=".35"/><polygon points="-1.1,-6.8 3.5,-8.5 1.1,-10.1 -3.5,-8.4" fill="#833793" stroke="#521f5c" stroke-opacity=".75" stroke-width=".45"/></g>
<g id="by550"><linearGradient id="gby550" gradientUnits="userSpaceOnUse" x1="0" y1="-16.8" x2="0" y2="0.8"><stop offset="0" stop-color="#f4cf75"/><stop offset="0.77" stop-color="#f4cf75"/><stop offset="0.85" stop-color="#f7db98"/><stop offset="0.93" stop-color="#fae8bc"/><stop offset="1" stop-color="#fbefd2"/></linearGradient><linearGradient id="gby550s" gradientUnits="userSpaceOnUse" x1="0" y1="-16.8" x2="0" y2="0.8"><stop offset="0" stop-color="#6b500e"/><stop offset="0.77" stop-color="#6b500e"/><stop offset="0.85" stop-color="#a17f2c"/><stop offset="0.93" stop-color="#d6ad49"/><stop offset="1" stop-color="#f2c458"/></linearGradient><polygon points="-3.5,0.1 -1.1,1.7 3.5,-0.1 3.5,-16.9 -1.1,-15.2 -3.5,-16.8" fill="url(#gby550)" stroke="#765810" stroke-opacity=".35" stroke-width=".3"/><path d="M-3.5 -14H3.5M-3.5 -12.5H3.5M-3.5 -11H3.5M-3.5 -9.5H3.5M-3.5 -8H3.5M-3.5 -6.5H3.5M-3.5 -5H3.5M-3.5 -3.5H3.5M-3.5 -2H3.5M-3.5 -0.5H3.5M-2.1 1H0.8" stroke="url(#gby550s)" stroke-width=".8" fill="none"/><path d="M-1.1 1.7V-15.2" stroke="#9a7315" stroke-opacity=".3" stroke-width=".35"/><polygon points="-1.1,-15.2 3.5,-16.9 1.1,-18.5 -3.5,-16.8" fill="#eeb429" stroke="#9a7315" stroke-opacity=".75" stroke-width=".45"/></g>
<g id="by250"><linearGradient id="gby250" gradientUnits="userSpaceOnUse" x1="0" y1="-7.7" x2="0" y2="0.8"><stop offset="0" stop-color="#f4cf75"/><stop offset="0.5" stop-color="#f4cf75"/><stop offset="0.67" stop-color="#f7db98"/><stop offset="0.83" stop-color="#fae8bc"/><stop offset="1" stop-color="#fbefd2"/></linearGradient><linearGradient id="gby250s" gradientUnits="userSpaceOnUse" x1="0" y1="-7.7" x2="0" y2="0.8"><stop offset="0" stop-color="#6b500e"/><stop offset="0.5" stop-color="#6b500e"/><stop offset="0.67" stop-color="#a17f2c"/><stop offset="0.83" stop-color="#d6ad49"/><stop offset="1" stop-color="#f2c458"/></linearGradient><polygon points="-3.5,0.1 -1.1,1.7 3.5,-0.1 3.5,-7.7 -1.1,-6 -3.5,-7.6" fill="url(#gby250)" stroke="#765810" stroke-opacity=".35" stroke-width=".3"/><path d="M-3.5 -4.9H3.5M-3.5 -3.4H3.5M-3.5 -1.9H3.5M-3.5 -0.4H3.5M-1.9 1.1H0.3" stroke="url(#gby250s)" stroke-width=".8" fill="none"/><path d="M-1.1 1.7V-6" stroke="#9a7315" stroke-opacity=".3" stroke-width=".35"/><polygon points="-1.1,-6 3.5,-7.7 1.1,-9.3 -3.5,-7.6" fill="#eeb429" stroke="#9a7315" stroke-opacity=".75" stroke-width=".45"/></g>
<g id="bo250"><linearGradient id="gbo250" gradientUnits="userSpaceOnUse" x1="0" y1="-7.7" x2="0" y2="0.8"><stop offset="0" stop-color="#e79470"/><stop offset="0.5" stop-color="#e79470"/><stop offset="0.67" stop-color="#edaf94"/><stop offset="0.83" stop-color="#f4cbba"/><stop offset="1" stop-color="#f7ddd1"/></linearGradient><linearGradient id="gbo250s" gradientUnits="userSpaceOnUse" x1="0" y1="-7.7" x2="0" y2="0.8"><stop offset="0" stop-color="#62250b"/><stop offset="0.5" stop-color="#62250b"/><stop offset="0.67" stop-color="#964928"/><stop offset="0.83" stop-color="#c86c44"/><stop offset="1" stop-color="#e27e52"/></linearGradient><polygon points="-3.5,0.1 -1.1,1.7 3.5,-0.1 3.5,-7.7 -1.1,-6 -3.5,-7.6" fill="url(#gbo250)" stroke="#6c2a0c" stroke-opacity=".35" stroke-width=".3"/><path d="M-3.5 -4.9H3.5M-3.5 -3.4H3.5M-3.5 -1.9H3.5M-3.5 -0.4H3.5M-1.9 1.1H0.3" stroke="url(#gbo250s)" stroke-width=".8" fill="none"/><path d="M-1.1 1.7V-6" stroke="#8d3610" stroke-opacity=".3" stroke-width=".35"/><polygon points="-1.1,-6 3.5,-7.7 1.1,-9.3 -3.5,-7.6" fill="#db5a22" stroke="#8d3610" stroke-opacity=".75" stroke-width=".45"/></g>
<g id="bb250"><linearGradient id="gbb250" gradientUnits="userSpaceOnUse" x1="0" y1="-7.7" x2="0" y2="0.8"><stop offset="0" stop-color="#61a8d6"/><stop offset="0.5" stop-color="#61a8d6"/><stop offset="0.67" stop-color="#89bee0"/><stop offset="0.83" stop-color="#b3d5eb"/><stop offset="1" stop-color="#cce3f2"/></linearGradient><linearGradient id="gbb250s" gradientUnits="userSpaceOnUse" x1="0" y1="-7.7" x2="0" y2="0.8"><stop offset="0" stop-color="#003355"/><stop offset="0.5" stop-color="#003355"/><stop offset="0.67" stop-color="#1a5b86"/><stop offset="0.83" stop-color="#3381b5"/><stop offset="1" stop-color="#4095ce"/></linearGradient><polygon points="-3.5,0.1 -1.1,1.7 3.5,-0.1 3.5,-7.7 -1.1,-6 -3.5,-7.6" fill="url(#gbb250)" stroke="#00395e" stroke-opacity=".35" stroke-width=".3"/><path d="M-3.5 -4.9H3.5M-3.5 -3.4H3.5M-3.5 -1.9H3.5M-3.5 -0.4H3.5M-1.9 1.1H0.3" stroke="url(#gbb250s)" stroke-width=".8" fill="none"/><path d="M-1.1 1.7V-6" stroke="#004a7b" stroke-opacity=".3" stroke-width=".35"/><polygon points="-1.1,-6 3.5,-7.7 1.1,-9.3 -3.5,-7.6" fill="#0a78c0" stroke="#004a7b" stroke-opacity=".75" stroke-width=".45"/></g>
</defs>
<use href="#bp300" x="165.3" y="316.5"/>
<use href="#bp325" x="157" y="319.6"/>
<use href="#bp350" x="148.7" y="322.7"/>
<use href="#bp350" x="140.4" y="325.9"/>
<use href="#bp350" x="132.1" y="329"/>
<use href="#bp325" x="123.7" y="332.2"/>
<use href="#bp350" x="115.4" y="335.3"/>
<use href="#bp350" x="107.1" y="338.4"/>
<use href="#bp325" x="98.8" y="341.6"/>
<use href="#bp300" x="90.5" y="344.7"/>
<use href="#bp250" x="82.2" y="347.8"/>
<use href="#by325" x="170.8" y="320"/>
<use href="#by375" x="162.5" y="323.2"/>
<use href="#by425" x="154.2" y="326.3"/>
<use href="#by475" x="145.9" y="329.5"/>
<use href="#by375" x="137.6" y="332.6"/>
<use href="#by400" x="129.2" y="335.7"/>
<use href="#by450" x="120.9" y="338.9"/>
<use href="#by575" x="112.6" y="342"/>
<use href="#by375" x="104.3" y="345.1"/>
<use href="#by325" x="96" y="348.3"/>
<use href="#by275" x="87.7" y="351.4"/>
<use href="#bo325" x="176.3" y="323.6"/>
<use href="#bo350" x="168" y="326.7"/>
<use href="#bo375" x="159.7" y="329.9"/>
<use href="#bo400" x="151.4" y="333"/>
<use href="#bo400" x="143" y="336.2"/>
<use href="#bo425" x="134.7" y="339.3"/>
<use href="#bo475" x="126.4" y="342.4"/>
<use href="#bo425" x="118.1" y="345.6"/>
<use href="#bo350" x="109.8" y="348.7"/>
<use href="#bo325" x="101.5" y="351.8"/>
<use href="#bo275" x="93.2" y="355"/>
<use href="#bb300" x="181.8" y="327.2"/>
<use href="#bb325" x="173.5" y="330.3"/>
<use href="#bb350" x="165.2" y="333.4"/>
<use href="#bb375" x="156.9" y="336.6"/>
<use href="#bb375" x="148.5" y="339.7"/>
<use href="#bb400" x="140.2" y="342.9"/>
<use href="#bb400" x="131.9" y="346"/>
<use href="#bb375" x="123.6" y="349.1"/>
<use href="#bb350" x="115.3" y="352.3"/>
<use href="#bb300" x="107" y="355.4"/>
<use href="#bb275" x="98.7" y="358.5"/>
<use href="#bp300" x="197.2" y="337.2"/>
<use href="#bp325" x="188.9" y="340.3"/>
<use href="#bp350" x="180.5" y="343.4"/>
<use href="#bp350" x="172.2" y="346.6"/>
<use href="#bp350" x="163.9" y="349.7"/>
<use href="#bp325" x="155.6" y="352.8"/>
<use href="#bp350" x="147.3" y="356"/>
<use href="#bp350" x="139" y="359.1"/>
<use href="#bp325" x="130.7" y="362.2"/>
<use href="#bp300" x="122.3" y="365.4"/>
<use href="#bp250" x="114" y="368.5"/>
<use href="#by325" x="202.7" y="340.7"/>
<use href="#by350" x="194.3" y="343.9"/>
<use href="#by425" x="186" y="347"/>
<use href="#by450" x="177.7" y="350.1"/>
<use href="#by375" x="169.4" y="353.3"/>
<use href="#by375" x="161.1" y="356.4"/>
<use href="#by450" x="152.8" y="359.5"/>
<use href="#by575" x="144.5" y="362.7"/>
<use href="#by350" x="136.1" y="365.8"/>
<use href="#by300" x="127.8" y="368.9"/>
<use href="#by275" x="119.5" y="372.1"/>
<use href="#bo300" x="208.2" y="344.3"/>
<use href="#bo350" x="199.8" y="347.4"/>
<use href="#bo375" x="191.5" y="350.6"/>
<use href="#bo400" x="183.2" y="353.7"/>
<use href="#bo375" x="174.9" y="356.8"/>
<use href="#bo425" x="166.6" y="360"/>
<use href="#bo450" x="158.3" y="363.1"/>
<use href="#bo400" x="150" y="366.2"/>
<use href="#bo350" x="141.6" y="369.4"/>
<use href="#bo300" x="133.3" y="372.5"/>
<use href="#bo275" x="125" y="375.6"/>
<use href="#bb300" x="213.6" y="347.8"/>
<use href="#bb325" x="205.3" y="351"/>
<use href="#bb350" x="197" y="354.1"/>
<use href="#bb350" x="188.7" y="357.3"/>
<use href="#bb350" x="180.4" y="360.4"/>
<use href="#bb375" x="172.1" y="363.5"/>
<use href="#bb400" x="163.8" y="366.7"/>
<use href="#bb375" x="155.4" y="369.8"/>
<use href="#bb350" x="147.1" y="372.9"/>
<use href="#bb300" x="138.8" y="376.1"/>
<use href="#bb275" x="130.5" y="379.2"/>
<use href="#bp300" x="229" y="357.8"/>
<use href="#bp325" x="220.7" y="361"/>
<use href="#bp325" x="212.4" y="364.1"/>
<use href="#bp350" x="204.1" y="367.2"/>
<use href="#bp325" x="195.8" y="370.4"/>
<use href="#bp325" x="187.4" y="373.5"/>
<use href="#bp325" x="179.1" y="376.6"/>
<use href="#bp350" x="170.8" y="379.8"/>
<use href="#bp325" x="162.5" y="382.9"/>
<use href="#bp275" x="154.2" y="386.1"/>
<use href="#bp250" x="145.9" y="389.2"/>
<use href="#by325" x="234.5" y="361.4"/>
<use href="#by350" x="226.2" y="364.5"/>
<use href="#by425" x="217.9" y="367.7"/>
<use href="#by450" x="209.6" y="370.8"/>
<use href="#by375" x="201.3" y="373.9"/>
<use href="#by375" x="192.9" y="377.1"/>
<use href="#by425" x="184.6" y="380.2"/>
<use href="#by550" x="176.3" y="383.3"/>
<use href="#by350" x="168" y="386.5"/>
<use href="#by300" x="159.7" y="389.6"/>
<use href="#by275" x="151.4" y="392.8"/>
<use href="#bo300" x="240" y="365"/>
<use href="#bo325" x="231.7" y="368.1"/>
<use href="#bo375" x="223.4" y="371.2"/>
<use href="#bo375" x="215.1" y="374.4"/>
<use href="#bo375" x="206.7" y="377.5"/>
<use href="#bo425" x="198.4" y="380.6"/>
<use href="#bo450" x="190.1" y="383.8"/>
<use href="#bo400" x="181.8" y="386.9"/>
<use href="#bo350" x="173.5" y="390"/>
<use href="#bo300" x="165.2" y="393.2"/>
<use href="#bo275" x="156.9" y="396.3"/>
<use href="#bb300" x="245.5" y="368.5"/>
<use href="#bb325" x="237.2" y="371.7"/>
<use href="#bb350" x="228.9" y="374.8"/>
<use href="#bb350" x="220.5" y="377.9"/>
<use href="#bb350" x="212.2" y="381.1"/>
<use href="#bb375" x="203.9" y="384.2"/>
<use href="#bb400" x="195.6" y="387.3"/>
<use href="#bb375" x="187.3" y="390.5"/>
<use href="#bb325" x="179" y="393.6"/>
<use href="#bb300" x="170.7" y="396.7"/>
<use href="#bb275" x="162.3" y="399.9"/>
<use href="#bp300" x="260.9" y="378.5"/>
<use href="#bp300" x="252.5" y="381.6"/>
<use href="#bp325" x="244.2" y="384.8"/>
<use href="#bp350" x="235.9" y="387.9"/>
<use href="#bp325" x="227.6" y="391"/>
<use href="#bp325" x="219.3" y="394.2"/>
<use href="#bp325" x="211" y="397.3"/>
<use href="#bp350" x="202.7" y="400.5"/>
<use href="#bp325" x="194.3" y="403.6"/>
<use href="#bp275" x="186" y="406.7"/>
<use href="#bp250" x="177.7" y="409.9"/>
<use href="#by300" x="266.4" y="382.1"/>
<use href="#by350" x="258" y="385.2"/>
<use href="#by400" x="249.7" y="388.3"/>
<use href="#by450" x="241.4" y="391.5"/>
<use href="#by350" x="233.1" y="394.6"/>
<use href="#by375" x="224.8" y="397.7"/>
<use href="#by425" x="216.5" y="400.9"/>
<use href="#by550" x="208.2" y="404"/>
<use href="#by350" x="199.8" y="407.2"/>
<use href="#by300" x="191.5" y="410.3"/>
<use href="#by275" x="183.2" y="413.4"/>
<use href="#bo300" x="271.8" y="385.6"/>
<use href="#bo325" x="263.5" y="388.8"/>
<use href="#bo350" x="255.2" y="391.9"/>
<use href="#bo375" x="246.9" y="395"/>
<use href="#bo375" x="238.6" y="398.2"/>
<use href="#bo400" x="230.3" y="401.3"/>
<use href="#bo450" x="222" y="404.4"/>
<use href="#bo400" x="213.6" y="407.6"/>
<use href="#bo350" x="205.3" y="410.7"/>
<use href="#bo300" x="197" y="413.9"/>
<use href="#bo275" x="188.7" y="417"/>
<use href="#bb300" x="277.3" y="389.2"/>
<use href="#bb325" x="269" y="392.3"/>
<use href="#bb350" x="260.7" y="395.5"/>
<use href="#bb350" x="252.4" y="398.6"/>
<use href="#bb350" x="244.1" y="401.7"/>
<use href="#bb375" x="235.8" y="404.9"/>
<use href="#bb400" x="227.5" y="408"/>
<use href="#bb350" x="219.1" y="411.1"/>
<use href="#bb325" x="210.8" y="414.3"/>
<use href="#bb300" x="202.5" y="417.4"/>
<use href="#bb275" x="194.2" y="420.6"/>
<use href="#bp300" x="292.7" y="399.2"/>
<use href="#bp300" x="284.4" y="402.3"/>
<use href="#bp325" x="276.1" y="405.4"/>
<use href="#bp325" x="267.8" y="408.6"/>
<use href="#bp325" x="259.5" y="411.7"/>
<use href="#bp325" x="251.1" y="414.9"/>
<use href="#bp325" x="242.8" y="418"/>
<use href="#bp325" x="234.5" y="421.1"/>
<use href="#bp325" x="226.2" y="424.3"/>
<use href="#bp275" x="217.9" y="427.4"/>
<use href="#bp250" x="209.6" y="430.5"/>
<use href="#by300" x="298.2" y="402.7"/>
<use href="#by350" x="289.9" y="405.9"/>
<use href="#by400" x="281.6" y="409"/>
<use href="#by450" x="273.3" y="412.1"/>
<use href="#by350" x="264.9" y="415.3"/>
<use href="#by375" x="256.6" y="418.4"/>
<use href="#by425" x="248.3" y="421.6"/>
<use href="#by550" x="240" y="424.7"/>
<use href="#by350" x="231.7" y="427.8"/>
<use href="#by300" x="223.4" y="431"/>
<use href="#by250" x="215.1" y="434.1"/>
<use href="#bo300" x="303.7" y="406.3"/>
<use href="#bo325" x="295.4" y="409.4"/>
<use href="#bo350" x="287.1" y="412.6"/>
<use href="#bo375" x="278.8" y="415.7"/>
<use href="#bo375" x="270.4" y="418.9"/>
<use href="#bo400" x="262.1" y="422"/>
<use href="#bo450" x="253.8" y="425.1"/>
<use href="#bo400" x="245.5" y="428.3"/>
<use href="#bo325" x="237.2" y="431.4"/>
<use href="#bo300" x="228.9" y="434.5"/>
<use href="#bo250" x="220.5" y="437.7"/>
<use href="#bb300" x="309.2" y="409.9"/>
<use href="#bb325" x="300.9" y="413"/>
<use href="#bb325" x="292.6" y="416.1"/>
<use href="#bb350" x="284.2" y="419.3"/>
<use href="#bb350" x="275.9" y="422.4"/>
<use href="#bb375" x="267.6" y="425.6"/>
<use href="#bb375" x="259.3" y="428.7"/>
<use href="#bb350" x="251" y="431.8"/>
<use href="#bb325" x="242.7" y="435"/>
<use href="#bb300" x="234.4" y="438.1"/>
<use href="#bb250" x="226" y="441.2"/>
<g fill="none" stroke="#3a3a3a" stroke-width=".6">
<path d="M251.6 453.7l4.7 3"/>
<path d="M260.2 450.5l4.7 3"/>
<path d="M268.8 447.2l4.7 3"/>
<path d="M277.3 444l4.7 3"/>
<path d="M285.9 440.8l4.7 3"/>
<path d="M294.5 437.5l4.7 3"/>
<path d="M303 434.3l4.7 3"/>
<path d="M311.6 431.1l4.7 3"/>
<path d="M320.1 427.9l4.7 3"/>
<path d="M328.7 424.6l4.7 3"/>
<path d="M337.3 421.4l4.7 3"/>
<path d="M211.7 436.2l-4.7 1.8"/>
<path d="M180 415.6l-4.7 1.8"/>
<path d="M148.2 395l-4.7 1.8"/>
<path d="M116.4 374.3l-4.7 1.8"/>
<path d="M84.6 353.7l-4.7 1.8"/>
<path d="M52.7 333l-2.4 -0.9" stroke-width=".4"/>
<path d="M52.7 331.5l-2.4 -0.9" stroke-width=".4"/>
<path d="M52.7 329.9l-2.4 -0.9" stroke-width=".4"/>
<path d="M52.7 328.4l-2.4 -0.9" stroke-width=".4"/>
<path d="M52.7 326.9l-2.4 -0.9" stroke-width=".4"/>
<path d="M52.7 325.4l-2.4 -0.9" stroke-width=".4"/>
<path d="M52.7 323.8l-2.4 -0.9" stroke-width=".4"/>
<path d="M52.7 322.3l-2.4 -0.9" stroke-width=".4"/>
<path d="M52.7 320.8l-2.4 -0.9" stroke-width=".4"/>
<path d="M52.7 319.2l-2.4 -0.9" stroke-width=".4"/>
<path d="M52.7 317.7l-2.4 -0.9" stroke-width=".4"/>
<path d="M52.7 316.2l-2.4 -0.9" stroke-width=".4"/>
<path d="M52.7 314.6l-2.4 -0.9" stroke-width=".4"/>
<path d="M52.7 313.1l-2.4 -0.9" stroke-width=".4"/>
<path d="M52.7 311.6l-2.4 -0.9" stroke-width=".4"/>
<path d="M52.7 310.1l-2.4 -0.9" stroke-width=".4"/>
<path d="M52.7 308.5l-2.4 -0.9" stroke-width=".4"/>
<path d="M52.7 307l-2.4 -0.9" stroke-width=".4"/>
<path d="M52.7 305.5l-2.4 -0.9" stroke-width=".4"/>
<path d="M52.7 303.9l-2.4 -0.9" stroke-width=".4"/>
<path d="M52.7 329.2l-4.2 -1.6"/>
<path d="M52.7 321.6l-4.2 -1.6"/>
<path d="M52.7 313.9l-4.2 -1.6"/>
<path d="M52.7 306.3l-4.2 -1.6"/>
</g>
<text x="261.7" y="464" font-size="7" text-anchor="middle" transform="rotate(-8 261.7 464)">15</text>
<text x="270.1" y="460.9" font-size="7" text-anchor="middle" transform="rotate(-8 270.1 460.9)">16</text>
<text x="278.5" y="457.8" font-size="7" text-anchor="middle" transform="rotate(-8 278.5 457.8)">17</text>
<text x="286.9" y="454.6" font-size="7" text-anchor="middle" transform="rotate(-8 286.9 454.6)">18</text>
<text x="295.3" y="451.5" font-size="7" text-anchor="middle" transform="rotate(-8 295.3 451.5)">19</text>
<text x="303.7" y="448.4" font-size="7" text-anchor="middle" transform="rotate(-8 303.7 448.4)">20</text>
<text x="312.1" y="445.3" font-size="7" text-anchor="middle" transform="rotate(-8 312.1 445.3)">21</text>
<text x="320.5" y="442.2" font-size="7" text-anchor="middle" transform="rotate(-8 320.5 442.2)">22</text>
<text x="328.9" y="439" font-size="7" text-anchor="middle" transform="rotate(-8 328.9 439)">23</text>
<text x="337.3" y="435.9" font-size="7" text-anchor="middle" transform="rotate(-8 337.3 435.9)">24</text>
<text x="345.7" y="432.8" font-size="7" text-anchor="middle" transform="rotate(-8 345.7 432.8)">25</text>
<text x="202" y="445.6" font-size="7.4" text-anchor="middle">10</text>
<text x="170.3" y="425" font-size="7.4" text-anchor="middle">20</text>
<text x="138.6" y="404.3" font-size="7.4" text-anchor="middle">30</text>
<text x="106.9" y="383.7" font-size="7.4" text-anchor="middle">40</text>
<text x="75.2" y="363" font-size="7.4" text-anchor="middle">50</text>
<text x="47.4" y="331.7" font-size="6.9" text-anchor="end">-0</text>
<text x="47.4" y="324.1" font-size="6.9" text-anchor="end">-2.5</text>
<text x="47.4" y="316.4" font-size="6.9" text-anchor="end">-5</text>
<text x="47.4" y="308.8" font-size="6.9" text-anchor="end">-7.5</text>
<text x="32.2" y="318" font-size="8" text-anchor="middle" transform="rotate(-90 32.2 318)" textLength="46" lengthAdjust="spacingAndGlyphs">N.B.M (kNM)</text>
<text x="309.4" y="461.6" font-size="8" text-anchor="middle" transform="rotate(-21 309.4 461.6)" textLength="37" lengthAdjust="spacingAndGlyphs">Sleeper No</text>
<text x="158.1" y="437.8" font-size="8" text-anchor="middle" transform="rotate(39 158.1 437.8)" textLength="31" lengthAdjust="spacingAndGlyphs">Vel. (m/s)</text>
</g>
<text x="190.2" y="238.6" font-size="10.5" text-anchor="middle" textLength="12.5" lengthAdjust="spacingAndGlyphs">(a)</text>
<text x="190.2" y="497.9" font-size="10.5" text-anchor="middle" textLength="12.5" lengthAdjust="spacingAndGlyphs">(b)</text>
<path d="M5 430.6H20.3" stroke="#7e2f8e" stroke-width="1.5" fill="none"/>
<path d="M5 447H20.3" stroke="#0072bd" stroke-width="1.5" fill="none"/>
<path d="M5 462.6H20.3" stroke="#d95319" stroke-width="1.5" fill="none"/>
<path d="M2.2 478H18.1" stroke="#edb120" stroke-width="1.5" fill="none"/>
<text x="22.8" y="434.1" font-size="8" textLength="30.1" lengthAdjust="spacingAndGlyphs">Reference</text>
<text x="22.8" y="450" font-size="8" textLength="55.8" lengthAdjust="spacingAndGlyphs">One Unsupported</text>
<text x="22.8" y="465.6" font-size="8" textLength="13.4" lengthAdjust="spacingAndGlyphs">Two</text>
<text x="44.6" y="465.6" font-size="8" textLength="40.4" lengthAdjust="spacingAndGlyphs">Unsupported</text>
<text x="22.3" y="481" font-size="8" textLength="17.3" lengthAdjust="spacingAndGlyphs">Three</text>
<text x="44.6" y="481" font-size="8" textLength="40.4" lengthAdjust="spacingAndGlyphs">Unsupported</text>
<g fill="none" stroke="#222" stroke-width=".8" stroke-linejoin="round">
<path d="M119.7 545L120.7 532.3L135.3 532.3L139.2 530.2L142.2 531.9L146 531.6L154 531.6L157.8 530.2L161.7 532.3L175 533.8L186 534.4L200 534.8L215 533.6L221 532.2L224.5 531.6L232.5 531.6L236 530.4L239 531.8L254.3 531.4L254.3 544.6Z"/>
</g>
<g stroke="#222" fill="#222">
<path d="M150 511.8V520.4" stroke-width=".8" fill="none"/>
<path d="M148.5 517.2L150 520.6L151.5 517.2" stroke-width=".7" fill="none"/>
<path d="M147.7 522h4.6l-.5 2.3h-1.2v5.6l2.4 1.6h-6l2.4-1.6v-5.6h-1.2z" stroke-width=".3"/>
</g>
<g stroke="#222" fill="#222">
<path d="M228.5 511.8V520.4" stroke-width=".8" fill="none"/>
<path d="M227 517.2L228.5 520.6L230 517.2" stroke-width=".7" fill="none"/>
<path d="M226.2 522h4.6l-.5 2.3h-1.2v5.6l2.4 1.6h-6l2.4-1.6v-5.6h-1.2z" stroke-width=".3"/>
</g>
<rect x="186" y="534.2" width="7" height="9.6" fill="#ee1c24"/>
<path d="M193 539H260.5" stroke="#222" stroke-width="1.1" fill="none"/>
<path d="M259.6 535.8L265 539L259.6 542.2Z" fill="#111"/>
<text x="267.5" y="541.3" font-size="8" textLength="43.8" lengthAdjust="spacingAndGlyphs">Selected Point</text>
</svg>
</body></html>
